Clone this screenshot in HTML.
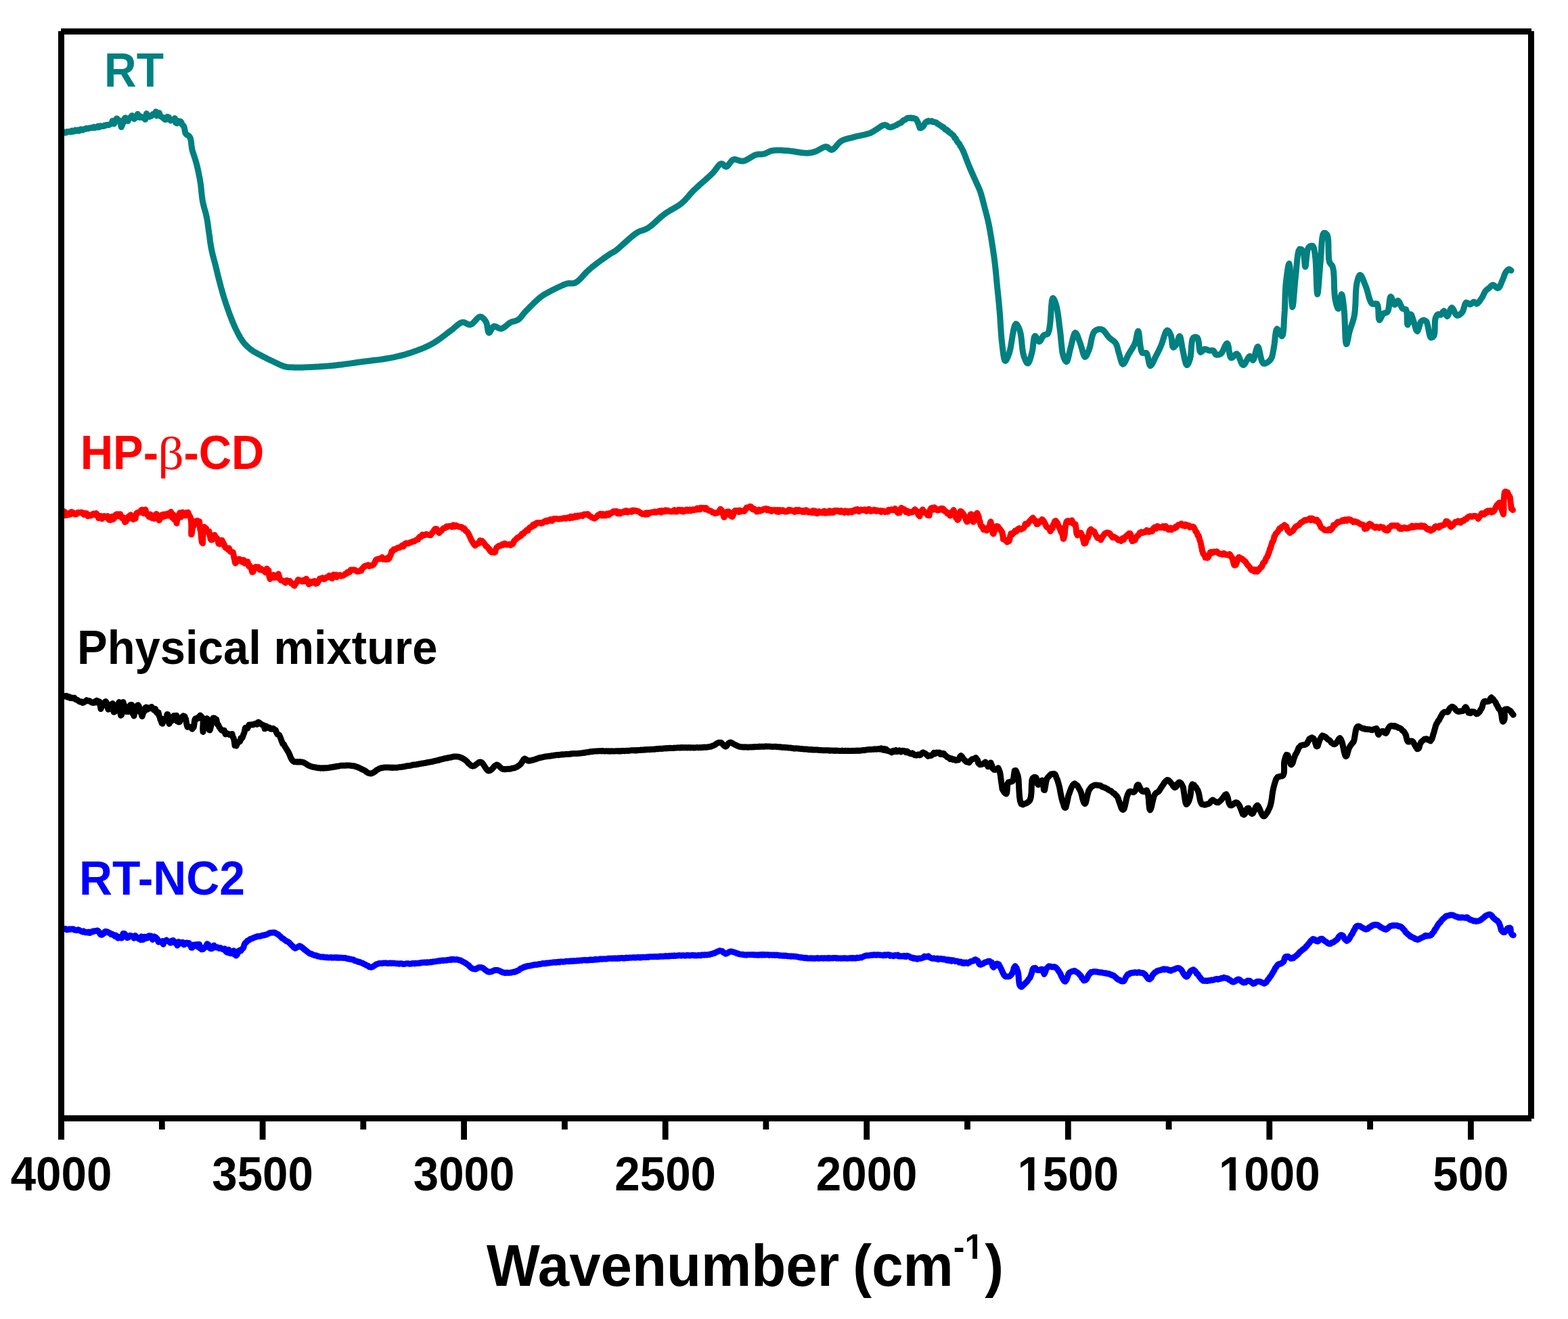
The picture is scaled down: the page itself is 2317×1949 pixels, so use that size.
<!DOCTYPE html>
<html><head><meta charset="utf-8"><style>
html,body{margin:0;padding:0;background:#fff;}
svg{display:block;}
text{font-family:"Liberation Sans",Arial,sans-serif;font-weight:bold;}
.tl{font-size:67.3px;fill:#000;}
.lb{font-size:67px;}
</style></head><body>
<svg width="2317" height="1949" viewBox="0 0 2317 1949">
<rect width="2317" height="1949" fill="#fff"/>
<polyline points="91.0,196.0 92.3,195.9 95.0,195.0 96.5,196.2 98.0,195.8 99.3,194.6 100.7,194.9 102.0,194.6 103.1,194.9 104.3,195.0 105.4,193.4 106.6,193.1 107.8,194.5 109.0,193.5 110.3,194.0 111.5,192.3 112.7,193.0 114.0,193.3 115.2,192.1 116.4,193.4 117.6,193.1 118.7,191.1 119.9,190.9 121.0,191.8 122.5,192.3 123.9,191.0 125.4,190.4 126.5,190.6 127.6,189.6 128.7,189.8 129.9,190.1 131.0,190.0 132.1,189.3 133.2,189.1 134.3,188.8 135.8,189.0 137.2,188.4 138.7,187.6 140.1,189.0 141.6,188.1 143.0,188.0 144.4,186.8 145.7,188.2 147.1,187.6 148.3,185.9 149.4,186.1 150.6,186.6 151.7,186.4 152.8,186.6 154.0,185.3 155.1,185.9 156.2,185.3 157.3,184.4 158.9,184.5 160.5,184.7 162.0,184.2 163.5,183.1 164.8,182.8 166.2,178.6 167.3,179.5 168.5,183.0 170.6,178.5 172.5,175.0 174.2,176.7 175.7,177.7 176.7,178.8 177.4,178.8 178.0,182.0 178.5,184.8 179.3,187.8 180.3,185.3 181.3,182.7 182.4,181.2 183.7,175.5 185.2,173.9 186.9,177.8 188.8,179.0 190.9,175.3 193.0,173.1 195.1,170.7 197.1,172.6 198.4,175.8 199.7,173.7 200.9,171.5 202.2,173.5 203.4,168.4 204.6,170.2 206.7,173.6 208.4,172.3 209.8,173.5 211.4,173.2 213.0,174.9 214.6,176.5 216.5,167.7 218.6,172.4 219.8,172.3 221.1,172.4 222.6,171.0 224.1,171.3 225.7,168.8 227.2,169.0 228.8,167.8 230.4,164.9 231.7,171.2 233.1,169.0 235.2,166.7 236.6,170.4 237.6,172.1 238.8,172.7 240.6,173.6 242.6,175.7 243.8,176.6 244.9,176.8 246.0,175.7 247.1,172.6 248.3,174.0 249.5,173.5 250.8,176.3 252.1,178.1 253.4,177.3 254.6,177.1 256.7,177.4 258.4,174.7 259.7,181.5 261.4,182.3 263.1,178.8 265.2,179.1 267.4,179.8 269.4,184.4 271.0,185.7 271.9,187.3 272.5,189.4 272.9,191.6 273.3,193.9 273.7,195.9 274.5,197.6 276.4,199.3 278.6,200.5 280.5,202.4 281.5,204.8 282.1,207.7 282.6,211.0 282.9,214.6 283.4,218.1 284.0,221.4 284.9,224.5 285.9,227.6 286.9,230.7 288.0,233.8 289.0,237.1 290.0,240.5 291.1,244.9 292.2,249.5 293.2,254.4 294.2,259.3 295.2,264.2 296.0,269.0 296.7,273.8 297.2,278.6 297.7,283.5 298.2,288.3 298.8,293.0 299.5,297.6 300.4,301.7 301.4,305.7 302.5,309.6 303.6,313.5 304.6,317.4 305.5,321.4 306.2,325.4 306.8,329.3 307.4,333.3 307.9,337.3 308.4,341.2 309.0,345.2 309.6,349.2 310.1,353.1 310.6,357.1 311.2,361.1 311.9,365.0 312.6,369.0 313.5,373.0 314.4,377.0 315.5,381.0 316.5,384.9 317.6,388.9 318.6,392.9 319.6,396.9 320.6,400.9 321.5,404.9 322.5,408.9 323.5,412.8 324.5,416.7 325.5,420.3 326.4,423.9 327.4,427.5 328.4,431.0 329.4,434.6 330.5,438.1 331.6,441.7 332.7,445.2 333.9,448.8 335.1,452.3 336.3,455.9 337.6,459.5 339.0,463.4 340.5,467.4 342.1,471.5 343.7,475.5 345.3,479.4 347.1,483.3 348.9,487.1 350.8,490.9 352.7,494.7 354.7,498.3 356.8,501.7 359.0,504.8 360.8,507.1 362.7,509.3 364.7,511.3 366.7,513.1 368.8,514.9 371.0,516.7 373.5,518.5 376.2,520.1 379.0,521.7 381.9,523.2 384.8,524.7 387.6,526.2 390.4,527.7 393.1,529.1 395.9,530.5 398.7,531.8 401.5,533.2 404.3,534.5 407.1,535.8 409.9,537.2 412.7,538.5 415.5,539.8 418.3,540.9 421.0,541.7 423.4,542.2 425.6,542.5 427.9,542.7 430.2,542.8 432.6,542.8 435.2,542.9 438.8,543.0 442.7,542.9 446.7,542.9 450.8,542.7 455.0,542.6 459.0,542.4 463.0,542.2 467.1,542.0 471.2,541.8 475.2,541.5 479.1,541.3 482.9,541.0 485.8,540.8 488.6,540.5 491.2,540.3 493.9,540.0 496.8,539.7 500.0,539.3 505.2,538.7 510.9,537.9 517.0,537.1 523.3,536.2 529.6,535.3 535.7,534.5 541.7,533.7 547.7,533.0 553.7,532.3 559.7,531.6 565.6,530.8 571.4,529.8 576.7,528.8 581.9,527.8 587.0,526.7 592.1,525.5 597.2,524.2 602.4,522.6 608.3,520.7 614.4,518.6 620.5,516.3 626.6,513.8 632.5,511.2 638.1,508.3 643.3,505.2 648.3,501.8 653.2,498.3 657.9,494.7 662.4,491.2 666.7,488.1 669.7,485.7 672.6,483.2 675.4,480.8 678.0,478.7 680.7,477.1 683.3,476.2 685.3,476.3 687.3,477.0 689.3,478.0 691.3,479.1 693.2,479.8 695.2,479.8 697.6,478.6 700.1,476.3 702.6,473.5 705.0,470.8 707.3,468.7 709.5,467.9 711.4,468.3 713.2,469.5 714.9,471.1 716.5,473.0 717.9,475.0 719.0,477.6 719.8,481.1 720.4,484.7 721.0,488.1 721.6,490.6 722.6,491.7 723.8,490.9 725.1,488.7 726.5,486.0 728.1,483.5 729.8,482.1 731.7,482.2 733.8,483.1 736.0,484.4 738.3,485.4 740.5,485.7 742.8,484.9 745.2,483.5 747.6,481.6 750.1,479.5 752.5,477.6 754.8,476.2 757.0,475.3 759.2,474.8 761.4,474.3 763.5,473.6 765.5,472.6 767.4,471.1 769.1,469.4 770.7,467.4 772.4,465.2 774.2,463.0 776.2,460.7 779.6,457.2 783.5,453.2 787.6,449.1 791.9,445.0 796.0,441.3 800.0,438.1 802.8,436.1 805.6,434.4 808.3,432.9 811.0,431.5 813.8,430.1 816.7,428.6 820.2,426.8 823.8,425.0 827.6,423.2 831.3,421.5 834.8,420.0 838.1,419.0 840.6,418.6 843.0,418.7 845.3,418.8 847.6,418.6 850.0,417.9 853.3,415.8 856.7,412.8 860.2,409.1 863.8,405.1 867.5,401.2 871.4,397.6 876.0,393.8 881.1,389.9 886.3,386.0 891.3,382.3 896.0,379.0 900.0,376.2 902.2,374.8 904.1,373.7 905.9,372.8 907.8,371.7 910.0,370.2 914.3,366.7 919.4,362.2 925.0,357.2 930.6,352.1 936.1,347.5 941.0,344.0 943.9,342.4 946.7,341.3 949.4,340.4 952.1,339.5 954.8,338.4 957.6,336.9 961.4,334.2 965.3,331.0 969.2,327.4 973.2,323.6 977.3,320.0 981.4,316.7 985.7,313.8 990.2,311.0 994.8,308.4 999.4,305.7 1003.7,303.0 1007.6,300.0 1010.7,297.2 1013.4,294.3 1016.0,291.4 1018.6,288.4 1021.3,285.3 1024.3,282.1 1028.7,277.9 1033.6,273.4 1038.8,268.9 1043.9,264.3 1048.7,260.0 1052.9,256.0 1055.5,253.1 1057.8,250.0 1060.0,247.0 1062.1,244.4 1064.1,242.6 1066.0,241.7 1067.8,242.3 1069.6,244.0 1071.3,245.7 1073.1,246.4 1074.8,245.6 1076.4,243.8 1078.1,241.4 1079.9,239.0 1081.8,236.9 1083.8,235.7 1085.9,235.5 1088.2,235.9 1090.6,236.7 1093.1,237.5 1095.6,238.1 1098.1,238.1 1101.2,237.2 1104.4,235.6 1107.7,233.6 1111.0,231.6 1114.1,229.8 1117.1,228.6 1119.6,228.1 1122.0,227.9 1124.4,227.9 1126.7,227.8 1129.0,227.4 1131.0,226.8 1132.9,225.9 1134.8,225.0 1136.7,224.0 1138.8,223.2 1141.0,222.6 1144.1,222.2 1147.5,222.0 1151.0,222.0 1154.7,222.1 1158.5,222.4 1162.4,222.6 1167.4,223.1 1172.8,223.8 1178.4,224.7 1183.9,225.5 1188.9,226.1 1193.3,226.2 1195.6,226.0 1197.6,225.8 1199.5,225.4 1201.4,225.0 1203.2,224.4 1205.2,223.8 1207.8,222.7 1210.4,221.2 1213.2,219.6 1215.9,218.1 1218.4,217.1 1220.7,216.7 1222.9,217.5 1224.9,219.2 1226.9,220.8 1229.0,221.4 1231.2,220.5 1233.4,218.5 1235.7,215.9 1238.1,213.0 1240.6,210.3 1243.3,208.3 1246.2,206.9 1249.2,205.8 1252.4,204.9 1255.7,204.1 1259.0,203.3 1262.4,202.4 1266.2,201.4 1270.2,200.6 1274.3,199.7 1278.3,198.8 1282.3,197.7 1286.2,196.4 1290.0,194.5 1293.9,192.0 1297.8,189.4 1301.4,187.0 1304.7,185.2 1307.6,184.5 1309.6,185.0 1311.3,186.2 1312.9,187.5 1314.8,188.1 1317.0,187.9 1319.4,187.1 1321.9,186.0 1324.6,184.7 1327.1,183.3 1329.5,182.1 1331.6,181.3 1333.6,179.1 1335.5,177.5 1337.4,177.0 1339.4,175.4 1341.4,174.3 1342.6,174.3 1343.8,174.6 1345.1,174.0 1346.3,174.1 1347.6,174.9 1348.9,174.6 1350.1,174.6 1351.2,175.2 1353.3,175.4 1354.8,177.8 1356.1,180.4 1357.1,183.0 1358.1,185.6 1359.2,189.0 1360.5,189.3 1361.9,188.4 1363.4,187.5 1365.0,185.7 1366.6,182.2 1368.3,180.3 1370.0,179.2 1371.1,179.8 1372.3,178.6 1373.5,179.4 1374.6,179.3 1375.9,179.2 1377.1,178.8 1378.3,180.3 1379.5,180.3 1381.4,180.5 1383.4,181.1 1385.4,183.0 1387.4,183.9 1389.4,185.6 1391.4,186.6 1392.6,187.9 1393.8,187.8 1395.0,189.0 1396.3,190.9 1397.5,191.7 1398.8,191.6 1400.0,193.4 1401.2,193.5 1402.4,195.4 1403.5,196.0 1405.7,197.5 1407.5,199.1 1409.2,200.6 1410.8,204.0 1412.3,204.7 1413.8,208.0 1415.2,210.2 1416.5,211.5 1417.7,212.7 1418.9,215.7 1420.1,217.1 1421.2,219.1 1422.4,221.4 1424.0,224.9 1425.6,228.7 1427.1,232.8 1428.7,237.0 1430.3,241.2 1431.9,245.2 1433.5,248.9 1435.1,252.6 1436.7,256.2 1438.3,259.8 1439.9,263.3 1441.4,266.7 1442.7,269.6 1443.9,272.3 1445.2,275.0 1446.4,277.7 1447.5,280.4 1448.6,283.3 1449.7,286.7 1450.7,290.2 1451.7,293.8 1452.6,297.4 1453.6,301.1 1454.5,304.8 1455.5,308.7 1456.6,312.6 1457.6,316.5 1458.6,320.5 1459.6,324.5 1460.5,328.6 1461.4,332.8 1462.2,337.1 1463.0,341.4 1463.7,345.8 1464.5,350.2 1465.2,354.8 1466.0,360.1 1466.9,365.6 1467.7,371.1 1468.5,376.8 1469.3,382.4 1470.0,388.1 1470.7,394.0 1471.3,399.9 1471.9,405.9 1472.5,411.9 1473.0,417.8 1473.6,423.8 1474.2,429.7 1474.8,435.5 1475.4,441.3 1476.0,447.2 1476.5,453.3 1477.1,459.5 1477.7,467.2 1478.2,475.4 1478.7,483.8 1479.3,492.0 1479.9,499.9 1480.7,507.1 1481.3,512.5 1482.0,518.3 1482.7,523.9 1483.5,528.6 1484.4,531.9 1485.5,533.3 1486.4,532.9 1487.3,531.5 1488.3,529.4 1489.4,526.9 1490.4,524.2 1491.4,521.4 1493.1,514.9 1494.6,506.1 1496.1,496.6 1497.6,487.8 1499.3,481.3 1501.0,478.6 1502.2,479.0 1503.4,480.5 1504.6,482.7 1505.8,485.4 1506.9,488.1 1508.2,493.2 1509.2,499.7 1509.9,507.0 1510.7,514.3 1511.6,521.0 1512.9,526.2 1513.8,528.7 1514.8,531.2 1515.8,533.4 1516.8,535.3 1517.8,536.5 1518.8,536.9 1519.9,536.1 1520.9,534.1 1522.0,531.3 1523.0,528.0 1523.9,524.6 1524.8,521.4 1525.7,517.1 1526.4,511.8 1527.0,506.4 1527.6,501.5 1528.4,497.9 1529.5,496.4 1530.5,497.1 1531.7,499.2 1532.9,501.7 1534.2,503.9 1535.5,504.8 1536.9,504.0 1538.2,502.0 1539.6,499.4 1541.1,497.0 1542.6,495.2 1544.6,494.4 1546.7,494.1 1548.6,492.9 1550.6,486.9 1551.9,476.7 1552.8,464.6 1553.5,453.0 1554.4,444.1 1555.7,440.5 1556.6,441.0 1557.6,442.5 1558.6,444.7 1559.6,447.3 1560.5,450.0 1561.7,454.8 1562.8,460.8 1563.8,467.4 1564.7,474.4 1565.5,481.4 1566.4,488.1 1567.2,494.8 1567.8,501.9 1568.5,508.9 1569.2,515.6 1570.0,521.5 1571.2,526.2 1572.3,529.2 1573.5,531.9 1574.8,533.8 1576.0,534.5 1577.1,533.4 1578.0,530.7 1579.0,526.9 1579.9,522.5 1580.9,518.2 1581.9,514.3 1583.0,510.1 1584.1,505.2 1585.3,500.3 1586.5,496.0 1587.7,492.9 1589.0,491.7 1590.1,492.4 1591.4,494.4 1592.6,497.3 1593.8,500.6 1595.0,504.0 1596.2,507.1 1597.4,510.8 1598.6,515.1 1599.8,519.5 1600.9,523.4 1602.1,526.3 1603.3,527.4 1604.3,527.0 1605.3,525.7 1606.3,523.8 1607.3,521.5 1608.3,519.1 1609.3,516.7 1610.6,512.6 1611.7,507.5 1612.8,502.0 1614.0,496.8 1615.6,492.3 1617.6,489.3 1619.5,487.9 1621.7,487.0 1623.9,486.5 1626.2,486.5 1628.3,486.9 1630.2,488.0 1632.0,489.8 1633.8,492.0 1635.5,494.4 1637.2,496.8 1639.0,498.8 1640.7,500.3 1642.4,501.6 1644.1,502.8 1645.8,504.1 1647.3,505.5 1648.6,507.1 1649.7,509.2 1650.6,511.4 1651.3,513.8 1651.9,516.4 1652.5,518.9 1653.3,521.4 1654.2,524.5 1655.1,528.1 1656.1,531.7 1657.1,534.9 1658.1,537.2 1659.3,538.1 1660.5,537.5 1661.9,535.6 1663.3,532.9 1664.7,529.8 1666.2,526.6 1667.6,523.8 1669.2,521.1 1670.9,518.4 1672.6,515.6 1674.3,512.8 1675.8,510.0 1677.1,507.1 1678.2,503.8 1679.0,499.9 1679.8,496.0 1680.5,492.6 1681.2,490.2 1681.9,489.3 1682.8,491.5 1683.5,496.9 1684.2,504.2 1685.1,511.7 1686.3,517.9 1687.9,521.4 1690.8,521.5 1693.8,521.4 1695.1,523.6 1696.1,527.3 1697.0,531.7 1697.8,535.9 1698.7,539.1 1699.8,540.5 1701.0,539.9 1702.4,538.0 1703.8,535.2 1705.3,532.1 1706.7,528.9 1708.1,526.2 1709.3,523.9 1710.5,521.6 1711.7,519.3 1712.8,517.0 1714.0,514.5 1715.2,511.9 1716.8,507.8 1718.4,502.8 1720.0,497.6 1721.6,492.9 1723.2,489.5 1724.8,488.1 1726.2,488.7 1727.6,490.3 1728.9,492.6 1730.0,495.0 1730.8,497.9 1731.4,501.6 1731.8,505.6 1732.2,509.3 1732.7,512.0 1733.6,513.3 1735.1,512.7 1736.7,510.8 1738.3,508.6 1739.2,506.7 1740.1,504.2 1740.9,501.5 1741.6,499.1 1742.4,497.3 1743.1,496.7 1744.0,497.8 1744.8,500.7 1745.5,504.8 1746.3,509.4 1747.1,514.1 1747.9,518.1 1748.8,522.2 1749.7,526.8 1750.7,531.4 1751.7,535.4 1752.7,538.3 1753.8,539.5 1754.7,539.0 1755.8,537.4 1756.8,535.2 1757.7,532.6 1758.6,530.0 1759.5,525.4 1760.0,519.4 1760.4,513.0 1761.0,506.8 1761.8,501.9 1763.3,499.0 1765.2,498.1 1767.4,498.1 1769.3,499.0 1770.5,501.4 1771.3,505.5 1771.8,510.3 1772.3,515.0 1772.9,518.7 1774.0,520.5 1775.8,519.6 1777.8,517.2 1780.0,515.7 1782.3,516.1 1784.7,517.2 1787.1,518.1 1789.2,518.1 1791.3,517.8 1793.1,518.1 1794.4,519.9 1795.4,522.3 1796.7,524.0 1798.8,524.4 1801.4,524.0 1803.8,522.9 1805.6,520.9 1807.3,517.8 1808.9,514.1 1810.5,510.7 1812.0,508.3 1813.3,507.4 1814.5,509.0 1815.4,512.9 1816.1,517.8 1816.9,522.8 1817.9,526.8 1819.3,528.8 1820.8,528.4 1822.4,526.9 1824.2,525.0 1826.0,523.4 1827.6,522.9 1829.3,524.4 1830.9,527.5 1832.4,531.4 1833.9,535.3 1835.5,538.3 1837.1,539.5 1838.7,538.6 1840.4,536.2 1842.1,533.0 1843.7,529.9 1845.3,527.4 1846.7,526.4 1848.4,528.0 1849.9,530.9 1851.4,532.4 1852.6,530.8 1853.9,526.9 1855.0,522.1 1856.2,517.3 1857.4,513.6 1858.6,512.1 1859.9,513.8 1861.0,518.2 1862.2,524.0 1863.5,529.9 1865.0,534.7 1866.9,537.1 1868.5,537.3 1870.4,536.8 1872.4,535.8 1874.3,534.4 1876.1,532.8 1877.6,531.2 1878.9,528.9 1879.9,526.3 1880.6,523.2 1881.2,520.0 1881.8,516.6 1882.4,513.3 1883.2,508.5 1883.8,502.7 1884.4,496.8 1885.1,491.5 1885.9,487.7 1887.1,486.0 1888.2,486.7 1889.4,488.7 1890.7,491.4 1892.1,494.0 1893.3,496.0 1894.3,496.7 1895.5,495.0 1896.2,490.9 1896.8,485.2 1897.2,478.7 1897.5,471.9 1897.9,465.7 1898.4,458.2 1898.7,450.1 1898.9,441.8 1899.2,433.4 1899.6,425.4 1900.2,418.1 1900.9,412.2 1901.7,405.9 1902.5,399.7 1903.4,394.5 1904.2,390.8 1905.0,389.5 1906.0,394.3 1906.8,406.2 1907.5,421.7 1908.2,437.1 1909.0,449.0 1909.8,453.8 1910.5,451.5 1911.3,445.3 1912.0,436.7 1912.8,426.8 1913.6,417.0 1914.5,408.6 1915.3,400.9 1916.0,392.4 1916.8,383.9 1917.7,376.4 1918.9,370.8 1920.5,368.1 1922.9,368.4 1925.2,370.5 1926.3,373.5 1927.0,378.3 1927.5,383.8 1927.9,388.9 1928.3,392.8 1928.8,394.3 1929.4,392.5 1929.9,387.8 1930.5,381.6 1931.2,375.0 1932.2,369.3 1933.6,365.7 1935.5,364.0 1937.7,363.2 1939.5,363.3 1940.4,364.1 1941.1,365.6 1941.7,367.5 1942.2,369.9 1942.6,372.5 1943.1,375.2 1944.0,383.8 1944.7,396.1 1945.2,409.6 1945.6,422.0 1946.1,431.2 1946.7,434.8 1947.4,432.2 1948.1,425.4 1948.9,415.7 1949.7,404.8 1950.6,394.0 1951.4,384.8 1952.0,377.0 1952.5,368.4 1953.0,360.0 1953.7,352.5 1954.7,347.0 1956.2,344.3 1958.6,344.5 1961.0,346.7 1962.3,351.0 1962.9,357.8 1963.0,365.9 1963.2,374.3 1963.5,381.8 1964.5,387.1 1965.6,389.2 1966.9,390.7 1968.2,392.1 1969.3,394.3 1970.5,400.1 1971.1,408.0 1971.4,417.2 1971.6,426.5 1972.1,435.1 1972.9,441.9 1973.6,445.1 1974.3,448.4 1975.2,451.4 1976.0,453.9 1976.8,455.6 1977.6,456.2 1978.5,454.6 1979.3,450.6 1980.1,445.5 1980.9,440.3 1981.7,436.4 1982.4,434.8 1983.1,435.8 1983.7,438.4 1984.3,442.2 1984.9,446.8 1985.5,451.6 1986.0,456.2 1986.7,464.8 1987.2,475.8 1987.6,487.4 1988.0,498.0 1988.6,505.6 1989.5,508.6 1990.2,507.7 1990.9,505.2 1991.7,501.6 1992.5,497.5 1993.4,493.2 1994.3,489.5 1995.4,485.8 1996.7,482.1 1998.0,478.3 1999.2,474.4 2000.4,470.2 2001.4,465.7 2002.3,458.4 2002.9,449.9 2003.2,440.9 2003.5,432.2 2004.1,424.4 2005.0,418.1 2005.7,415.3 2006.4,412.6 2007.2,410.1 2008.0,408.1 2008.9,406.7 2009.8,406.2 2011.0,407.0 2012.4,409.1 2013.8,412.2 2015.3,415.8 2016.7,419.5 2018.1,422.9 2019.7,427.3 2021.1,432.4 2022.5,437.7 2024.0,442.6 2025.7,446.6 2027.6,449.0 2030.0,449.3 2032.6,448.6 2034.8,449.0 2036.0,451.7 2036.7,456.3 2036.9,461.8 2037.1,467.1 2037.5,471.2 2038.3,472.9 2039.3,472.2 2040.4,470.2 2041.6,467.6 2042.9,465.1 2044.3,463.3 2046.3,462.5 2048.4,462.1 2050.2,461.0 2051.5,458.1 2052.3,453.6 2052.9,448.4 2053.5,443.5 2054.1,439.8 2055.0,438.3 2055.9,439.1 2056.8,441.2 2057.9,444.1 2058.9,447.0 2060.0,449.2 2061.0,450.2 2062.5,448.7 2064.1,445.8 2065.7,444.3 2066.8,445.1 2068.0,447.0 2069.2,449.6 2070.4,452.3 2071.6,454.7 2072.9,456.2 2075.4,456.7 2077.6,457.4 2078.6,460.1 2079.1,464.6 2079.2,469.8 2079.3,474.7 2079.5,478.5 2080.0,480.0 2080.7,478.9 2081.4,476.0 2082.3,472.3 2083.1,468.6 2084.0,465.7 2084.8,464.5 2085.7,465.3 2086.5,467.4 2087.4,470.2 2088.3,472.9 2089.2,475.7 2090.2,479.2 2091.2,482.9 2092.2,486.2 2093.3,488.6 2094.3,489.5 2095.2,488.6 2096.1,486.3 2097.0,483.1 2097.9,479.8 2098.9,476.8 2100.0,474.9 2102.1,473.4 2104.3,473.0 2107.7,474.9 2108.9,477.8 2110.0,482.4 2111.0,487.8 2112.1,493.0 2113.2,497.1 2114.5,499.0 2116.7,498.4 2118.8,496.1 2119.7,493.1 2120.1,488.7 2120.2,483.6 2120.3,478.3 2120.5,473.6 2121.2,470.1 2122.3,467.5 2123.6,465.4 2125.1,464.3 2128.9,465.3 2130.6,463.5 2132.1,460.8 2133.7,459.5 2134.9,460.8 2136.1,463.4 2137.3,466.0 2138.5,467.2 2139.6,466.3 2140.7,464.0 2141.8,461.0 2142.9,458.0 2144.1,455.7 2145.3,454.7 2146.5,455.5 2147.7,457.5 2149.0,460.2 2150.2,463.0 2151.6,465.2 2153.0,466.3 2154.9,466.1 2156.9,465.0 2158.9,463.3 2160.7,461.4 2161.9,459.3 2162.8,456.4 2163.7,453.3 2164.5,450.4 2165.4,448.2 2166.5,447.0 2168.3,447.5 2170.3,449.1 2172.3,449.9 2174.3,448.8 2176.3,447.0 2178.1,446.0 2180.0,447.5 2181.9,448.9 2183.3,448.2 2184.9,446.7 2186.6,444.6 2188.2,442.3 2189.6,440.2 2190.7,438.5 2191.6,436.6 2192.6,434.6 2193.5,432.7 2194.4,431.0 2195.4,429.6 2196.9,428.1 2198.5,427.0 2200.2,425.8 2202.1,423.9 2204.0,422.0 2206.0,421.0 2207.9,421.8 2209.9,423.6 2211.9,425.3 2213.7,425.8 2215.0,424.9 2216.3,423.1 2217.4,420.8 2218.5,418.1 2219.5,415.5 2220.5,413.2 2221.4,411.2 2222.1,409.1 2222.8,407.0 2223.6,405.0 2224.4,403.2 2225.3,401.7 2226.9,399.9 2228.5,398.4 2230.1,397.8 2233.0,399.8" fill="none" stroke="#008080" stroke-width="9" stroke-linejoin="round" stroke-linecap="round"/>
<polyline points="91.0,761.3 91.8,761.4 93.8,755.5 95.2,756.0 96.6,761.7 98.0,761.2 99.5,761.0 100.7,758.4 102.0,760.6 103.1,760.4 104.2,759.9 105.4,756.4 106.5,757.9 107.6,757.1 108.7,759.0 110.9,760.1 113.0,759.6 114.9,757.2 116.8,757.6 118.6,757.6 120.3,757.1 122.0,757.6 124.0,760.5 125.9,758.6 128.0,758.6 129.9,762.7 131.9,760.8 134.1,761.9 136.1,760.3 138.0,759.1 140.1,760.7 142.1,758.5 144.0,760.9 145.7,765.6 147.4,765.0 149.0,762.4 150.7,766.5 152.3,763.9 154.0,762.4 155.2,764.2 156.4,763.7 157.7,764.8 159.0,762.6 160.9,767.9 163.0,768.6 165.1,763.3 167.0,767.5 168.8,765.6 170.3,761.2 172.0,760.1 173.1,759.7 174.2,762.7 175.4,760.0 176.7,762.6 177.8,759.7 179.0,764.1 180.5,765.6 181.9,764.4 183.3,767.2 184.6,771.4 186.0,770.6 187.5,768.1 188.9,764.3 190.4,763.0 192.0,764.4 193.2,760.8 194.4,766.3 195.6,762.2 196.9,767.4 199.0,763.3 200.1,766.3 200.8,761.8 202.0,758.2 203.7,757.2 205.9,757.2 207.1,756.4 208.4,754.1 209.6,753.2 210.8,755.3 211.9,758.4 213.0,756.2 214.9,753.1 216.8,759.8 218.6,760.8 220.3,763.8 222.0,759.9 224.2,765.4 226.2,761.8 228.0,766.4 229.6,761.6 231.0,759.4 231.9,765.4 232.8,762.5 234.0,767.0 235.3,768.9 236.9,763.0 238.6,760.9 240.4,764.1 242.0,759.9 244.1,762.7 246.2,759.3 248.0,762.2 249.6,758.3 251.0,759.6 252.6,756.3 254.3,764.8 256.0,760.4 257.3,767.6 258.7,764.9 259.9,768.5 261.0,773.3 261.8,767.3 262.2,764.8 262.8,765.5 264.0,761.2 265.6,757.8 267.6,764.0 268.7,757.9 269.8,756.9 270.9,759.1 272.0,761.0 274.0,761.9 275.3,757.4 276.6,759.1 277.8,757.1 279.0,760.3 281.0,763.9 282.2,767.2 282.7,773.9 282.8,779.3 282.7,786.2 282.7,789.7 283.0,789.8 283.3,787.2 283.6,788.0 284.0,782.5 284.4,777.6 285.1,776.9 286.0,777.7 287.5,770.3 289.4,771.9 291.3,769.3 293.0,770.1 294.6,770.5 295.9,782.8 296.8,785.9 297.6,796.3 298.3,801.0 299.0,800.5 299.5,802.8 299.7,795.9 300.0,790.0 300.3,785.0 300.9,781.4 302.0,778.6 303.2,781.7 304.5,780.7 305.7,784.2 307.0,784.6 308.1,786.8 308.9,785.1 309.6,789.8 310.3,791.9 311.1,796.4 312.0,797.7 313.6,797.6 315.3,794.5 317.0,790.5 318.2,792.6 319.5,795.7 320.7,795.6 321.9,798.9 323.0,803.5 324.0,802.7 325.5,803.9 327.0,798.4 327.9,798.2 329.0,800.1 330.1,802.5 331.3,804.6 332.6,808.6 334.0,809.8 336.2,810.0 337.4,812.3 338.6,810.1 339.8,814.6 341.0,815.4 343.0,815.4 344.3,816.2 345.2,820.2 345.9,824.7 346.5,825.3 347.1,830.3 348.0,832.2 349.1,829.0 350.4,826.2 352.0,828.8 353.6,826.0 355.6,827.2 357.7,830.3 358.8,828.9 359.9,827.4 362.1,832.7 364.0,830.2 365.9,830.1 367.8,836.8 369.5,836.2 371.2,840.1 372.7,845.3 374.0,845.0 375.4,839.6 376.5,839.4 378.0,837.5 379.7,838.3 381.6,837.9 383.8,842.0 385.9,840.5 388.0,842.7 390.1,843.2 392.3,845.9 394.4,840.2 396.0,844.5 396.9,842.7 397.3,847.6 397.6,849.4 398.0,852.3 399.0,855.5 400.7,853.3 401.9,851.2 403.0,850.6 404.2,849.6 405.4,853.5 406.7,851.7 407.9,853.0 410.0,851.2 411.5,848.0 412.8,853.3 413.9,855.9 415.2,857.5 416.5,857.9 418.0,858.1 419.8,859.2 421.9,861.2 424.0,857.8 426.2,859.0 428.2,858.6 430.0,861.7 431.9,862.0 433.6,864.5 435.1,865.5 436.5,862.8 437.8,861.0 438.9,860.0 440.5,856.6 442.1,856.9 444.1,857.9 446.3,859.2 448.4,857.3 450.5,858.9 452.5,855.3 454.5,858.1 456.5,863.3 458.5,859.4 460.5,861.5 462.5,859.2 464.5,858.6 466.5,862.4 468.5,861.9 470.5,858.9 472.5,854.9 474.5,855.1 476.5,853.8 478.5,855.7 480.5,855.1 482.5,853.1 484.5,853.2 486.5,850.4 488.5,852.6 490.5,854.7 491.7,853.3 492.9,849.1 494.1,851.3 495.2,852.2 496.4,849.2 497.6,852.8 498.8,850.0 500.0,850.6 502.0,849.6 504.0,851.3 506.0,850.7 508.1,849.9 510.0,848.1 511.7,848.1 513.3,845.6 514.9,845.9 516.6,845.3 518.2,842.0 520.0,842.2 521.9,842.0 524.0,842.0 526.1,843.4 528.2,844.6 530.2,844.1 532.0,843.1 533.8,843.4 535.4,839.6 536.9,838.8 538.4,836.7 540.0,835.9 541.9,836.1 543.9,834.8 545.9,836.6 548.0,835.8 549.9,835.5 551.8,834.5 553.8,831.2 555.7,827.0 557.8,826.3 560.0,825.7 561.1,826.0 562.3,825.1 563.5,825.7 564.8,823.4 566.0,826.4 567.3,825.9 568.6,825.7 569.8,826.8 571.0,826.8 572.1,824.5 574.0,826.0 575.4,824.6 576.3,821.1 577.1,820.6 577.9,818.0 578.8,814.8 580.0,815.0 581.7,811.7 583.8,812.0 585.9,810.6 588.0,809.2 590.0,809.3 592.1,808.0 594.1,806.2 596.0,807.5 598.0,803.8 600.0,802.6 601.9,803.0 603.9,803.0 606.0,801.6 607.9,801.2 609.9,799.9 612.0,800.0 614.0,798.4 616.0,797.4 617.7,797.0 619.3,794.1 620.9,792.7 622.5,793.2 624.2,790.1 626.0,790.9 627.9,790.5 630.1,789.3 632.3,790.2 634.4,790.6 636.4,790.7 638.0,788.0 639.5,786.5 640.7,784.9 641.7,783.0 643.0,781.5 644.9,781.5 646.9,785.2 649.0,787.5 650.7,785.1 652.4,784.1 654.1,781.8 656.0,780.2 658.0,780.2 659.9,777.8 661.8,778.4 663.9,777.5 666.0,777.4 668.0,778.4 670.0,775.8 672.1,778.0 674.1,776.4 676.1,777.6 678.0,778.3 680.0,778.6 682.1,778.8 684.2,781.5 686.2,780.9 688.2,784.4 690.2,785.7 692.0,788.2 693.9,792.1 695.5,795.6 697.1,799.0 698.6,801.6 700.2,804.0 702.0,806.0 703.7,804.8 705.6,803.1 707.5,803.0 709.3,798.6 711.0,800.1 712.5,799.4 713.8,800.9 715.1,802.7 716.4,804.0 718.0,807.0 719.9,807.9 722.0,810.7 723.1,811.3 724.2,814.1 726.4,815.9 728.4,815.6 730.0,816.5 731.5,816.1 732.5,811.9 734.0,808.9 735.6,807.9 737.5,806.4 739.6,806.5 741.8,804.5 742.9,804.1 744.0,805.0 746.0,803.1 748.1,804.9 750.2,804.7 752.4,804.3 754.3,805.5 756.0,803.6 757.4,804.1 758.5,802.7 759.5,799.7 760.6,798.4 762.0,797.4 763.9,795.1 765.1,794.3 766.2,793.9 767.4,793.2 768.7,791.9 769.9,791.7 771.2,788.8 772.4,789.0 773.7,788.3 774.8,786.5 776.0,785.8 778.1,783.4 780.0,784.0 782.0,780.3 783.9,778.9 785.9,778.6 788.0,775.2 789.9,776.5 791.8,773.3 793.8,772.4 795.8,772.8 797.9,772.3 800.0,773.4 801.3,772.9 802.5,772.1 803.9,770.8 805.2,770.7 806.6,769.5 808.0,770.9 809.4,769.2 810.7,768.5 812.1,769.3 813.4,767.5 814.7,767.8 816.0,769.4 818.1,766.6 820.1,766.6 822.1,766.6 824.0,766.7 826.0,767.1 828.0,766.4 830.1,766.4 832.1,765.8 834.1,765.4 836.2,766.2 838.3,765.0 840.5,764.7 841.8,765.7 843.1,763.3 844.4,763.3 845.8,765.2 847.1,763.6 848.5,764.4 849.9,762.2 851.3,763.1 852.6,763.8 853.9,762.0 855.2,763.0 856.5,762.3 858.6,761.2 860.7,762.5 862.8,760.1 864.8,760.0 866.7,760.2 868.5,759.5 870.7,762.1 872.6,763.0 874.5,764.6 876.5,765.2 878.4,766.1 880.3,764.9 882.3,763.1 883.4,761.4 884.5,760.7 885.7,760.9 886.9,759.2 888.3,759.4 889.6,762.0 891.1,759.4 892.5,761.8 894.0,761.0 895.5,761.8 896.8,759.2 898.2,759.8 899.4,761.1 900.6,758.5 901.7,758.3 902.9,758.6 904.9,756.8 906.7,755.5 908.6,756.5 910.7,755.2 912.6,758.8 913.8,758.1 915.0,756.6 916.2,759.1 917.3,757.1 918.6,757.6 919.9,757.5 921.4,755.8 922.8,756.6 924.3,754.7 925.8,754.8 927.4,757.0 928.9,756.3 930.5,755.2 932.0,755.6 933.3,756.4 934.6,754.0 935.8,755.3 937.2,754.3 938.6,754.5 939.9,754.7 941.3,755.4 942.7,755.2 944.1,756.1 945.5,757.0 946.9,758.1 948.3,759.2 949.7,759.6 951.0,759.3 952.3,758.8 953.6,760.3 954.8,757.8 956.0,757.7 957.2,760.0 958.5,759.2 959.6,757.6 960.7,757.9 962.9,757.0 965.1,756.8 966.2,756.5 967.4,756.1 968.7,757.2 970.0,757.1 971.5,756.1 972.9,755.7 974.4,754.9 975.6,756.5 976.8,757.2 978.0,754.5 979.2,756.1 980.5,756.1 981.8,755.9 983.1,753.8 984.4,755.5 985.7,754.3 987.1,754.3 988.4,755.6 989.7,755.8 991.0,755.7 992.4,756.1 993.7,755.9 995.0,755.1 996.2,753.6 997.5,756.0 998.7,756.1 1000.0,756.1 1001.1,755.3 1002.3,753.3 1003.4,753.8 1004.5,753.4 1005.6,755.1 1006.8,754.7 1007.9,753.4 1009.0,756.0 1010.2,756.0 1011.3,755.6 1012.4,754.1 1013.5,753.4 1015.0,753.0 1016.4,755.0 1017.9,754.4 1019.3,752.9 1020.7,754.9 1022.1,753.6 1023.4,753.0 1024.7,752.8 1026.0,753.7 1027.5,752.6 1028.9,753.1 1030.3,751.0 1031.7,752.7 1033.0,751.0 1034.3,752.8 1035.6,750.2 1036.9,750.4 1038.1,751.0 1039.4,750.4 1040.7,751.0 1042.0,752.4 1043.4,750.5 1044.8,752.9 1046.2,753.4 1047.6,754.6 1049.0,754.4 1050.4,755.3 1051.8,755.9 1053.1,757.2 1054.4,757.1 1055.7,757.6 1056.8,758.7 1058.0,758.0 1059.9,758.1 1061.6,756.9 1063.3,754.1 1064.7,752.3 1066.0,753.4 1067.0,755.5 1067.8,755.7 1068.4,759.9 1069.1,762.4 1070.0,764.3 1071.4,762.6 1072.9,758.9 1074.5,756.1 1076.0,757.1 1077.2,756.2 1078.5,757.2 1079.8,762.5 1080.9,762.2 1082.0,763.4 1083.0,762.1 1083.7,759.1 1084.6,757.7 1086.0,754.5 1087.6,754.4 1089.5,754.5 1091.6,756.5 1092.8,754.0 1093.9,756.2 1096.0,754.9 1098.0,754.8 1099.8,755.4 1101.5,753.0 1103.2,750.1 1104.8,750.1 1106.4,749.9 1108.0,748.5 1109.6,748.5 1111.1,750.8 1112.6,752.9 1114.2,751.8 1116.0,753.3 1118.0,755.9 1120.2,755.7 1121.4,753.1 1122.5,754.6 1123.8,755.0 1125.0,753.8 1126.2,754.0 1127.5,753.2 1128.7,752.2 1130.0,752.0 1131.6,751.6 1133.1,753.7 1134.8,752.1 1136.4,753.9 1137.5,753.3 1138.7,753.5 1139.8,755.5 1140.9,753.7 1142.1,754.1 1143.2,753.9 1144.3,753.5 1145.5,753.7 1146.6,754.9 1147.7,755.9 1148.9,753.5 1150.0,756.5 1151.1,755.6 1152.2,753.6 1153.3,755.8 1154.4,754.8 1155.6,755.2 1156.7,753.8 1157.8,755.2 1158.9,755.2 1160.0,756.1 1161.1,755.4 1162.2,755.8 1163.3,755.9 1164.4,754.1 1165.6,753.4 1166.7,755.0 1167.8,753.8 1168.9,753.8 1170.0,754.4 1171.1,755.1 1172.2,755.4 1173.3,755.5 1174.4,756.5 1175.6,753.6 1176.7,755.1 1177.8,753.5 1178.9,755.5 1180.0,754.7 1181.1,753.6 1182.2,754.2 1183.3,755.4 1184.4,754.8 1185.6,756.4 1186.7,754.4 1187.8,754.4 1188.9,756.4 1190.0,755.4 1191.1,753.7 1192.2,756.1 1193.3,754.8 1194.4,756.9 1195.6,756.0 1196.7,756.7 1197.8,757.1 1198.9,756.0 1200.0,757.7 1201.1,754.6 1202.2,755.8 1203.3,757.6 1204.4,754.9 1205.6,757.3 1206.7,758.5 1207.8,757.6 1208.9,758.2 1210.0,755.6 1211.1,757.1 1212.2,757.4 1213.3,756.8 1214.4,756.7 1215.6,757.9 1216.7,755.7 1217.8,755.2 1218.9,757.0 1220.0,758.2 1221.1,757.7 1222.2,757.0 1223.3,755.7 1224.4,757.7 1225.6,754.7 1226.7,755.3 1227.8,757.1 1228.9,757.4 1230.0,755.7 1231.1,757.4 1232.2,754.7 1233.3,756.3 1234.4,754.5 1235.5,755.1 1236.7,754.9 1237.8,754.3 1238.9,755.7 1240.0,756.1 1241.1,755.3 1242.2,756.6 1243.3,754.6 1244.4,756.2 1245.5,756.2 1246.7,755.8 1247.8,757.5 1248.9,754.8 1250.0,755.8 1251.1,755.8 1252.3,755.4 1253.4,757.4 1254.5,755.9 1255.7,755.6 1256.8,755.2 1258.0,755.1 1259.1,756.7 1260.2,756.0 1261.4,755.4 1262.5,753.6 1263.7,754.9 1264.8,753.2 1266.0,753.9 1267.1,752.6 1268.2,754.9 1269.4,755.7 1270.5,754.5 1271.6,754.2 1272.7,753.1 1273.8,753.7 1275.0,753.7 1276.1,753.6 1277.2,753.0 1278.3,752.9 1279.4,754.7 1280.5,755.4 1281.6,754.9 1282.7,754.3 1283.8,752.2 1284.9,753.2 1286.1,755.1 1287.2,755.5 1288.3,754.1 1289.4,754.2 1290.5,754.6 1291.6,753.2 1292.8,754.8 1293.9,753.7 1295.1,755.4 1296.2,754.2 1297.4,755.0 1298.6,754.8 1299.7,754.8 1300.9,754.6 1302.0,756.4 1303.2,755.8 1304.3,754.8 1305.9,755.1 1307.6,756.5 1309.1,755.9 1310.6,755.5 1311.7,756.3 1312.9,753.3 1314.0,754.5 1315.1,754.2 1317.2,752.8 1319.2,753.8 1321.0,753.5 1322.6,751.6 1324.2,753.7 1325.6,756.2 1326.8,757.9 1328.0,757.5 1329.2,757.6 1330.4,753.1 1332.0,750.4 1333.8,752.8 1335.0,753.2 1336.2,752.6 1337.5,753.7 1338.8,756.6 1340.1,756.5 1341.5,755.3 1342.7,758.2 1343.9,757.1 1346.0,756.6 1347.1,756.9 1348.3,756.7 1350.2,754.9 1352.0,752.8 1353.3,754.0 1354.6,755.2 1355.8,756.5 1356.9,760.8 1358.0,760.2 1359.0,762.8 1359.8,757.5 1360.7,755.9 1362.0,755.1 1363.4,752.9 1365.1,757.2 1367.0,756.7 1368.9,757.4 1370.6,761.1 1372.0,760.6 1373.1,761.7 1373.8,757.1 1374.6,752.9 1376.0,750.8 1377.2,750.4 1378.5,752.1 1379.6,753.0 1380.7,749.8 1381.8,751.0 1383.1,751.7 1384.4,753.6 1385.6,754.0 1386.9,753.7 1388.2,752.8 1389.5,752.6 1390.7,751.2 1391.9,753.3 1393.1,751.5 1394.5,752.6 1396.0,755.5 1398.0,755.8 1399.8,758.7 1401.4,759.6 1402.7,760.4 1404.0,762.0 1405.2,761.0 1406.1,756.7 1407.0,756.8 1408.0,756.2 1409.1,753.6 1410.2,756.5 1411.5,762.5 1412.7,765.4 1413.9,765.7 1415.0,768.4 1415.9,765.9 1416.7,766.6 1417.4,762.5 1418.2,759.2 1419.0,755.4 1420.0,755.6 1421.3,756.7 1422.8,758.6 1424.4,760.9 1426.0,764.2 1427.6,768.9 1429.0,771.0 1430.3,769.7 1431.6,766.7 1432.8,765.1 1434.0,760.1 1435.0,759.7 1435.9,763.1 1436.7,762.3 1437.5,765.6 1438.2,771.3 1439.0,769.6 1439.8,768.7 1440.6,767.4 1441.5,766.5 1442.3,759.8 1443.2,761.6 1444.0,758.1 1444.8,760.2 1445.5,761.8 1446.2,763.2 1447.0,770.3 1447.9,769.9 1449.0,775.4 1450.3,777.9 1451.8,778.2 1453.4,782.7 1455.1,780.4 1456.6,782.0 1458.0,783.9 1459.2,781.1 1460.3,782.4 1461.3,778.4 1462.3,777.1 1463.2,772.7 1464.0,770.8 1464.8,776.0 1465.5,775.9 1466.1,780.6 1466.6,783.1 1467.2,788.2 1468.0,788.8 1468.9,786.7 1469.7,783.6 1470.7,782.1 1471.8,781.6 1473.0,777.4 1474.7,778.0 1476.6,780.9 1478.4,782.7 1480.0,785.4 1480.9,786.8 1481.5,790.6 1482.0,790.5 1482.4,797.0 1483.0,795.3 1484.0,797.2 1485.9,797.9 1488.1,801.0 1490.0,799.0 1491.0,799.6 1491.7,797.8 1492.2,795.3 1492.9,791.4 1494.0,788.3 1495.6,789.8 1497.6,787.7 1499.8,784.4 1502.0,785.2 1504.0,781.8 1506.1,780.6 1508.1,782.3 1510.1,781.4 1512.0,780.7 1513.6,778.7 1515.2,774.1 1516.8,775.2 1518.3,774.6 1520.0,771.8 1522.0,769.4 1524.2,767.2 1526.2,765.1 1528.0,767.6 1529.4,770.8 1530.6,769.6 1532.0,774.5 1533.7,774.4 1535.7,770.3 1537.9,771.1 1540.0,767.4 1542.0,769.4 1544.1,773.3 1546.2,778.1 1548.2,779.8 1550.2,780.2 1552.0,785.0 1553.5,782.4 1554.9,781.1 1556.2,775.7 1557.5,773.3 1558.8,770.0 1560.0,769.6 1561.3,771.3 1562.5,772.8 1563.7,776.0 1564.9,779.3 1566.0,779.2 1567.1,784.6 1568.2,786.5 1569.2,788.4 1570.2,790.7 1571.2,796.3 1572.0,795.7 1572.8,791.4 1573.2,790.6 1573.6,784.2 1574.1,779.1 1574.8,776.1 1576.0,770.7 1577.8,769.5 1579.9,770.1 1582.0,771.9 1583.9,768.8 1585.8,773.7 1587.5,775.0 1589.0,774.5 1589.8,779.0 1590.2,781.8 1590.5,785.4 1590.7,787.6 1591.2,788.9 1592.0,791.0 1593.2,789.3 1594.4,789.8 1595.7,789.1 1597.0,787.2 1598.2,789.2 1599.2,792.4 1600.2,795.9 1601.2,799.9 1602.1,803.2 1603.0,801.9 1603.9,802.6 1604.7,799.9 1605.5,797.0 1606.3,794.0 1607.2,795.2 1608.0,793.0 1608.9,790.3 1609.8,785.1 1610.8,783.2 1612.0,782.2 1613.4,783.5 1615.0,785.3 1616.8,785.2 1618.5,789.0 1620.0,791.9 1621.7,794.9 1623.2,794.4 1625.0,794.7 1626.6,797.8 1628.3,794.3 1630.2,791.8 1632.1,788.9 1634.1,787.7 1636.0,786.9 1638.0,787.3 1639.9,788.3 1641.9,791.3 1643.9,794.2 1646.0,793.1 1648.0,794.4 1650.1,795.6 1652.3,798.0 1654.4,798.2 1656.5,799.4 1658.5,795.5 1660.4,797.5 1662.2,793.5 1663.9,792.9 1665.5,790.8 1667.1,789.7 1668.5,788.2 1669.9,788.2 1671.1,790.4 1672.2,797.5 1673.3,799.7 1674.5,798.8 1675.9,796.4 1677.3,798.0 1678.8,794.1 1680.5,791.9 1682.2,791.2 1684.2,787.4 1686.3,786.1 1688.4,787.4 1690.5,785.9 1692.5,786.2 1694.5,783.4 1696.5,786.1 1698.5,785.9 1700.5,784.0 1702.5,785.1 1704.4,780.6 1706.4,778.9 1708.4,781.2 1710.5,777.4 1712.5,778.7 1714.6,779.6 1716.6,779.4 1718.7,777.5 1720.6,780.3 1722.6,777.4 1724.5,780.5 1726.4,782.6 1728.6,781.2 1729.7,779.9 1730.9,782.9 1732.1,781.2 1733.3,781.1 1734.6,781.0 1735.9,780.6 1737.2,778.4 1738.6,778.9 1739.9,777.0 1741.3,775.4 1742.6,775.2 1744.0,774.9 1745.5,773.8 1747.0,776.5 1748.7,775.5 1750.3,777.4 1751.4,774.8 1752.5,777.2 1753.6,775.5 1755.2,776.2 1756.8,776.4 1758.2,779.0 1759.6,778.4 1760.8,778.4 1762.0,778.0 1763.9,778.9 1765.4,781.6 1766.7,785.4 1768.0,785.8 1769.2,788.8 1770.3,792.0 1771.3,792.1 1772.2,795.8 1773.1,799.0 1774.0,801.1 1774.7,804.4 1775.3,808.2 1775.9,809.4 1776.4,813.9 1777.1,815.2 1778.0,818.5 1779.5,819.7 1781.2,824.0 1783.0,823.7 1784.3,824.4 1785.6,823.1 1787.0,819.7 1788.4,815.9 1790.0,815.6 1791.9,816.8 1793.9,815.3 1796.0,815.6 1798.0,814.9 1800.0,817.1 1802.0,818.2 1803.9,818.5 1806.0,819.3 1807.1,817.8 1808.3,817.5 1809.4,818.0 1810.6,819.5 1811.8,819.8 1812.9,819.5 1815.0,820.2 1816.8,818.7 1818.3,820.4 1819.7,823.2 1821.0,824.5 1822.1,828.8 1823.0,832.9 1823.9,835.2 1825.0,833.7 1826.0,834.7 1827.0,832.6 1828.1,829.7 1829.3,826.0 1830.6,823.2 1832.0,824.2 1833.8,824.9 1835.8,826.1 1838.0,828.2 1840.1,829.5 1842.2,833.1 1844.0,835.2 1845.6,837.0 1847.0,838.6 1848.4,841.4 1850.0,842.6 1851.9,841.7 1853.9,844.6 1856.0,841.8 1858.0,844.5 1859.5,842.4 1860.8,841.4 1862.2,838.7 1863.5,838.2 1864.7,837.0 1866.0,833.1 1867.4,830.7 1868.9,830.6 1870.3,826.5 1871.6,823.7 1872.9,822.4 1874.0,819.0 1875.0,816.5 1875.9,814.0 1876.7,810.6 1877.4,810.2 1878.2,806.7 1879.0,804.5 1879.8,801.2 1880.5,800.7 1881.3,799.3 1882.1,797.5 1883.0,792.5 1884.0,791.4 1885.2,788.6 1886.4,787.6 1887.8,786.0 1889.2,783.8 1890.6,781.1 1892.0,781.5 1894.0,778.4 1896.0,778.0 1898.0,775.8 1899.3,777.4 1900.6,777.7 1901.9,781.7 1903.3,784.6 1904.6,785.3 1906.0,787.4 1907.5,785.4 1909.1,785.2 1910.7,783.9 1912.3,781.6 1914.0,778.9 1915.6,777.7 1917.3,776.8 1918.9,776.3 1920.7,774.2 1922.3,772.2 1924.0,771.5 1926.0,770.1 1927.8,768.4 1929.8,768.9 1932.0,767.9 1934.2,767.1 1935.4,766.0 1936.6,768.8 1937.9,766.0 1939.2,766.2 1940.5,766.9 1941.7,768.6 1942.9,769.3 1944.1,769.0 1946.0,768.1 1947.5,771.6 1948.6,771.2 1949.5,773.8 1950.6,776.0 1952.0,779.2 1953.7,780.5 1955.7,781.7 1957.8,783.6 1960.0,783.6 1962.1,783.9 1964.0,782.0 1965.8,783.6 1967.4,782.2 1968.9,780.3 1970.4,776.2 1972.0,776.7 1973.6,774.7 1975.1,773.4 1976.6,771.3 1978.3,771.7 1980.0,771.0 1981.9,770.3 1983.9,768.5 1985.9,769.8 1988.0,767.7 1990.0,769.6 1992.0,767.5 1994.0,767.6 1996.0,768.1 1998.0,770.1 2000.0,771.5 2002.0,770.3 2004.1,771.4 2006.3,771.8 2008.4,773.3 2010.3,774.5 2012.0,775.0 2013.8,775.3 2015.2,776.8 2016.6,781.4 2018.0,780.3 2019.4,781.0 2020.8,779.4 2022.3,775.1 2024.0,774.0 2025.8,774.9 2027.8,777.1 2029.9,778.3 2032.0,779.9 2034.0,778.3 2036.1,779.5 2038.1,780.1 2040.1,778.4 2042.0,779.3 2044.1,779.3 2046.3,783.1 2048.3,783.3 2050.0,784.0 2051.4,783.1 2052.5,779.5 2054.0,779.0 2056.0,776.8 2057.1,776.4 2058.3,776.9 2059.5,776.6 2060.8,776.5 2061.9,777.1 2063.0,777.0 2064.8,776.6 2066.4,778.9 2068.0,781.2 2070.0,779.6 2071.1,781.6 2072.3,781.2 2073.6,780.6 2074.9,779.5 2076.3,779.7 2077.8,780.8 2079.2,780.9 2080.7,780.8 2082.2,779.6 2083.7,779.7 2085.1,779.3 2086.5,776.9 2087.9,778.5 2089.3,779.0 2090.7,778.5 2092.2,776.9 2093.6,778.2 2095.0,777.2 2096.4,777.3 2097.8,778.3 2099.1,778.2 2100.3,776.5 2102.5,778.5 2104.6,777.2 2106.3,778.5 2108.1,781.3 2110.1,782.6 2112.2,781.6 2114.3,784.2 2116.2,782.5 2117.9,782.4 2119.3,780.0 2121.1,777.7 2123.3,778.3 2124.6,778.7 2125.9,779.6 2127.2,777.2 2128.5,777.7 2129.6,776.5 2130.8,776.9 2132.4,775.8 2133.9,775.6 2135.3,774.1 2136.7,770.2 2138.1,770.4 2139.6,771.3 2141.1,773.1 2142.6,776.8 2144.1,778.5 2145.4,776.3 2146.7,776.6 2147.7,775.0 2148.9,773.2 2150.3,771.4 2152.1,772.0 2154.2,769.8 2156.4,771.3 2158.4,772.4 2159.5,769.8 2160.6,769.5 2162.7,769.7 2164.9,767.0 2166.9,767.0 2168.9,764.3 2170.9,763.2 2173.0,762.7 2175.1,763.5 2177.3,762.6 2179.4,762.5 2181.1,762.8 2182.8,763.5 2184.3,766.4 2185.8,764.1 2187.5,762.1 2189.2,758.6 2190.4,758.8 2191.5,759.4 2192.8,760.2 2194.0,759.1 2196.1,755.8 2197.2,757.5 2198.4,754.9 2200.5,755.4 2201.8,754.6 2203.0,754.6 2204.2,757.2 2205.4,756.7 2206.8,755.9 2208.1,754.3 2209.4,751.5 2210.7,748.6 2211.9,746.4 2213.8,744.7 2215.5,742.7 2216.5,743.8 2217.4,747.8 2218.2,749.1 2219.0,752.7 2219.9,755.5 2220.8,757.7 2221.5,759.9 2221.9,756.9 2222.1,751.9 2222.1,749.3 2222.1,743.1 2222.2,737.7 2222.5,734.3 2223.0,729.6 2223.6,727.1 2224.5,726.4 2226.0,728.2 2227.5,727.3 2229.1,731.0 2230.5,734.5 2231.0,733.9 2231.4,735.2 2231.7,737.8 2232.0,741.5 2232.2,742.2 2232.5,746.4 2232.8,746.4 2233.0,751.4 2233.5,751.5 2235.5,753.5" fill="none" stroke="#ff0000" stroke-width="9" stroke-linejoin="round" stroke-linecap="round"/>
<polyline points="91.0,1027.5 92.0,1028.3 93.4,1028.1 94.7,1028.8 95.9,1029.1 97.2,1028.2 98.4,1028.3 99.8,1030.2 101.2,1029.4 102.6,1029.6 104.0,1031.4 105.3,1030.7 106.7,1031.7 107.8,1031.3 108.9,1032.0 110.0,1031.3 111.1,1032.8 112.2,1033.7 114.3,1034.3 116.4,1036.0 118.3,1037.1 120.2,1036.7 122.0,1038.5 124.1,1037.8 126.1,1036.2 128.0,1034.6 130.0,1035.7 132.0,1035.4 134.0,1037.0 136.0,1038.3 138.0,1038.4 139.2,1038.4 140.5,1036.4 141.7,1037.9 142.9,1035.1 145.0,1037.4 146.1,1038.5 146.8,1036.6 147.4,1039.6 148.1,1042.3 149.0,1047.6 150.3,1043.9 151.7,1042.9 153.3,1038.7 154.7,1037.8 156.0,1036.4 157.2,1037.7 158.1,1042.0 159.0,1045.1 160.0,1048.3 161.2,1045.8 162.5,1044.4 163.8,1041.2 165.0,1040.7 165.8,1040.0 166.4,1039.5 166.9,1046.5 167.5,1050.2 168.2,1052.2 169.0,1051.4 170.0,1051.4 171.3,1046.6 172.6,1047.3 173.9,1043.2 175.0,1039.5 176.0,1037.6 176.8,1043.5 177.4,1047.9 177.9,1047.4 178.2,1055.9 178.6,1057.1 179.0,1057.0 179.4,1056.5 179.8,1055.7 180.2,1051.7 180.6,1042.5 181.2,1042.2 182.0,1037.5 183.0,1042.1 184.1,1042.4 185.4,1048.5 186.7,1051.6 188.0,1050.0 189.5,1051.7 191.2,1045.4 192.7,1041.6 194.0,1043.6 194.7,1041.6 195.2,1045.1 195.6,1049.6 195.9,1054.0 196.4,1054.0 197.0,1054.4 197.9,1058.0 199.1,1052.1 200.3,1052.1 201.6,1048.1 202.8,1042.4 204.0,1041.8 205.0,1043.2 206.0,1046.4 207.0,1049.5 208.0,1052.6 209.0,1055.6 210.0,1058.5 211.1,1055.2 212.1,1052.5 213.2,1051.3 214.5,1046.1 216.0,1044.9 217.8,1048.3 219.8,1045.9 222.0,1046.6 224.1,1044.4 226.0,1047.5 227.8,1049.5 229.5,1047.6 231.1,1052.3 232.6,1054.0 234.0,1052.5 235.2,1057.9 236.2,1059.7 237.1,1063.7 238.0,1064.5 238.9,1068.4 240.0,1069.3 241.3,1064.5 242.7,1062.4 244.3,1062.9 245.7,1061.6 247.0,1055.4 248.0,1055.8 248.6,1057.6 248.8,1058.4 248.9,1061.7 249.0,1064.4 249.3,1067.2 250.0,1069.5 251.3,1067.2 253.0,1065.3 254.9,1064.6 256.9,1057.4 258.6,1058.2 260.0,1058.3 260.8,1057.2 261.3,1059.4 261.7,1065.8 262.2,1065.3 263.0,1066.2 264.2,1067.0 265.7,1066.6 267.4,1060.8 269.1,1059.5 270.7,1057.7 272.0,1059.9 273.0,1058.6 273.8,1063.1 274.5,1062.1 275.1,1066.1 275.9,1070.7 277.0,1074.2 278.6,1073.6 280.5,1074.1 282.3,1074.7 284.0,1077.2 285.2,1074.0 286.1,1074.8 286.8,1071.5 287.6,1064.3 288.6,1061.8 290.0,1062.7 292.1,1060.6 293.4,1061.2 294.7,1058.4 295.9,1057.2 297.1,1058.1 299.0,1061.6 299.9,1060.9 300.2,1065.0 300.1,1069.8 299.8,1074.1 299.7,1077.2 300.0,1081.4 300.7,1075.9 301.7,1071.9 302.8,1073.0 304.0,1068.5 305.1,1066.0 306.0,1061.6 306.7,1065.7 307.4,1068.6 308.0,1068.4 308.6,1075.2 309.2,1078.7 310.0,1078.9 310.8,1077.0 311.7,1072.8 312.7,1069.3 313.7,1064.8 314.8,1060.9 316.0,1062.5 317.2,1061.2 318.4,1065.4 319.7,1063.0 321.1,1070.0 322.6,1071.1 324.0,1074.4 325.7,1076.5 327.5,1079.0 329.3,1079.8 331.2,1079.3 333.1,1084.9 335.0,1083.4 337.1,1084.3 339.2,1085.7 341.3,1084.7 343.0,1084.6 344.2,1089.1 345.1,1090.6 345.7,1092.8 346.3,1095.9 347.0,1101.6 348.0,1100.9 349.1,1102.2 350.5,1098.9 351.9,1096.5 353.3,1096.2 354.7,1095.5 356.0,1090.4 357.4,1091.0 358.6,1088.8 359.8,1085.2 361.0,1082.4 362.4,1075.6 364.0,1076.6 365.8,1076.3 367.9,1071.1 370.0,1071.3 372.1,1070.6 374.0,1071.1 376.0,1069.7 378.0,1069.1 380.0,1070.4 381.8,1067.0 383.7,1068.2 385.7,1069.8 387.8,1071.1 390.0,1071.8 391.1,1076.7 392.3,1076.5 393.5,1072.9 394.7,1075.3 396.0,1074.7 397.3,1074.9 398.5,1075.4 399.7,1077.1 400.9,1077.2 402.0,1076.4 404.0,1076.5 405.8,1078.4 407.3,1078.7 408.6,1082.5 410.0,1085.1 411.3,1085.4 412.7,1086.1 414.0,1089.0 415.3,1092.5 416.6,1096.1 418.0,1099.4 419.4,1099.7 420.8,1102.8 422.3,1105.1 423.7,1107.3 425.1,1109.6 426.5,1112.0 427.6,1114.4 428.6,1116.8 429.6,1119.4 430.7,1121.6 431.9,1123.4 433.5,1125.0 435.3,1125.8 437.4,1125.7 438.5,1125.9 439.7,1125.8 440.9,1126.0 442.0,1125.9 443.2,1125.6 444.3,1125.9 446.5,1126.1 448.6,1126.6 450.5,1127.7 452.5,1128.7 454.4,1130.2 456.4,1131.2 458.5,1132.2 459.6,1132.5 460.7,1132.8 461.9,1133.2 463.0,1133.4 464.2,1133.5 465.3,1134.0 466.5,1133.9 467.7,1134.2 468.9,1134.7 470.1,1134.5 471.3,1134.7 472.5,1134.8 473.8,1135.2 475.1,1134.9 476.5,1134.8 477.8,1135.2 479.2,1134.8 480.6,1135.0 482.0,1134.8 483.3,1134.8 484.6,1134.7 486.0,1134.3 487.2,1134.3 488.5,1133.8 489.7,1134.0 490.9,1133.7 492.1,1133.5 493.3,1133.0 494.4,1133.1 495.5,1133.0 496.7,1132.3 497.8,1132.3 498.9,1132.2 500.0,1132.2 502.0,1131.6 504.0,1131.3 505.9,1131.2 507.9,1131.2 510.0,1131.2 511.1,1131.0 512.2,1131.0 513.4,1131.0 514.5,1131.0 515.7,1131.1 517.0,1131.0 518.2,1131.3 519.4,1131.6 520.5,1131.5 521.7,1131.8 522.9,1131.7 524.0,1132.2 526.1,1132.8 528.1,1133.5 530.1,1134.3 532.1,1135.2 534.0,1136.2 536.0,1137.3 538.0,1138.0 540.0,1139.3 542.0,1141.0 544.0,1142.2 546.0,1142.8 548.0,1143.1 549.1,1142.9 550.2,1142.4 552.4,1141.2 553.5,1140.3 554.6,1139.7 555.8,1138.7 556.9,1137.7 558.1,1137.1 559.4,1136.5 560.7,1135.6 562.0,1135.2 563.2,1134.8 564.4,1134.8 565.6,1134.4 566.9,1134.2 568.1,1134.1 569.4,1133.9 570.8,1134.1 572.2,1134.1 573.5,1134.0 574.9,1134.1 576.3,1134.2 577.7,1134.4 579.1,1134.1 580.5,1134.5 581.9,1134.3 583.3,1134.3 584.7,1134.2 586.1,1134.3 587.5,1134.1 589.0,1133.8 590.4,1133.6 591.8,1133.5 593.3,1133.4 594.7,1133.0 596.1,1132.9 597.6,1132.8 599.0,1132.3 600.5,1132.0 601.9,1131.7 603.4,1131.7 604.9,1131.4 606.3,1131.3 607.8,1131.0 608.9,1130.5 610.0,1130.3 611.1,1130.2 612.2,1129.9 613.4,1130.0 614.5,1129.9 615.7,1129.7 616.9,1129.2 618.1,1129.3 619.3,1128.8 620.5,1128.7 621.6,1128.6 622.8,1128.1 624.0,1127.9 625.2,1128.1 626.4,1127.6 627.6,1127.4 628.8,1127.3 630.0,1127.2 631.2,1126.6 632.3,1126.6 633.5,1126.4 634.7,1126.2 635.8,1125.9 637.3,1125.7 638.7,1125.6 640.2,1125.0 641.4,1124.8 642.6,1124.4 643.8,1124.2 644.9,1124.1 646.1,1123.5 647.2,1123.6 648.3,1123.3 649.4,1122.6 650.5,1122.7 652.2,1122.0 653.8,1121.7 655.4,1121.3 657.0,1120.7 658.6,1120.5 660.2,1120.2 661.6,1120.0 663.0,1119.4 664.4,1119.4 665.8,1119.2 667.2,1118.8 668.6,1118.5 669.9,1118.1 671.2,1118.1 672.5,1118.0 673.8,1118.1 675.0,1118.1 676.2,1118.1 678.4,1118.4 680.4,1119.2 682.4,1120.0 684.3,1120.8 686.3,1122.3 688.3,1123.7 690.3,1125.5 692.2,1128.0 694.2,1129.6 696.2,1131.3 698.3,1132.2 700.3,1131.8 702.3,1130.6 704.3,1129.1 706.4,1127.4 708.4,1126.2 710.3,1125.9 712.4,1127.1 714.4,1129.8 716.4,1132.9 718.3,1135.8 720.3,1138.2 722.3,1139.0 724.3,1138.4 726.3,1136.9 728.4,1134.9 730.4,1132.3 732.4,1130.8 734.3,1130.0 735.9,1130.8 737.4,1131.9 738.9,1133.5 740.5,1135.0 742.3,1136.1 743.5,1136.5 744.7,1136.5 746.0,1136.8 747.3,1136.5 748.8,1136.5 750.2,1136.3 751.7,1136.2 753.1,1136.3 754.5,1136.1 755.9,1135.5 757.1,1135.2 758.4,1135.1 759.5,1134.9 760.6,1134.6 762.8,1133.7 764.8,1132.6 766.6,1131.2 768.4,1130.0 770.0,1128.2 771.4,1126.1 772.8,1123.8 774.1,1121.8 775.4,1121.0 776.5,1121.9 777.7,1122.1 779.0,1123.4 780.4,1124.3 781.6,1124.3 782.9,1124.0 784.4,1123.8 785.9,1123.4 787.0,1123.1 788.2,1123.0 789.3,1122.5 790.5,1121.9 791.7,1121.8 793.0,1121.2 794.2,1120.8 795.4,1120.5 796.7,1119.8 797.9,1119.8 799.2,1119.5 800.4,1119.1 801.9,1118.8 803.3,1118.5 804.8,1118.1 805.9,1118.1 807.1,1117.7 808.2,1117.7 809.4,1117.6 810.6,1117.3 811.8,1117.2 812.9,1117.3 814.1,1117.0 815.3,1116.5 816.5,1116.7 817.7,1116.4 818.9,1116.0 820.1,1116.0 821.3,1115.8 822.6,1115.6 823.8,1115.6 824.9,1115.7 826.1,1115.3 827.3,1115.4 828.5,1115.2 829.7,1114.8 830.8,1115.1 832.0,1114.8 833.2,1114.9 834.4,1114.7 835.6,1114.6 836.7,1114.3 837.9,1114.5 839.1,1114.5 840.3,1114.4 841.5,1114.1 842.6,1114.2 843.8,1114.0 845.0,1113.7 846.2,1113.6 847.3,1113.6 848.5,1113.6 849.6,1113.5 850.8,1113.6 852.0,1113.6 853.1,1113.4 854.2,1113.3 855.4,1113.3 856.5,1113.0 857.9,1112.9 859.2,1112.9 860.6,1112.6 861.9,1112.3 863.2,1112.5 864.5,1112.2 865.9,1111.8 867.2,1111.6 868.5,1111.5 869.8,1111.4 871.1,1111.0 872.4,1110.7 873.7,1110.6 875.0,1110.8 876.4,1110.3 877.7,1110.3 879.1,1110.1 880.5,1110.0 881.7,1109.9 882.8,1110.0 884.0,1109.8 885.2,1109.7 886.4,1109.7 887.6,1109.7 888.7,1109.9 889.9,1109.6 891.1,1109.6 892.4,1109.9 893.6,1109.9 894.8,1110.0 896.0,1109.7 897.2,1109.9 898.5,1109.9 899.7,1109.8 901.0,1110.3 902.3,1109.9 903.5,1109.8 904.8,1110.0 906.1,1109.9 907.4,1110.1 908.7,1109.9 910.0,1109.8 911.3,1109.7 912.5,1110.0 913.8,1109.8 915.0,1110.0 916.3,1109.8 917.6,1110.0 918.9,1109.6 920.2,1109.5 921.5,1109.5 922.8,1109.7 923.9,1109.6 925.0,1109.4 926.1,1109.2 927.2,1109.4 928.3,1109.5 929.4,1109.3 930.6,1108.9 931.7,1108.9 932.8,1108.8 934.0,1108.8 935.1,1108.7 936.2,1108.6 937.4,1108.9 938.5,1108.9 939.7,1108.5 940.8,1108.9 942.0,1108.5 943.1,1108.6 944.3,1108.6 945.4,1108.6 946.6,1108.1 947.7,1108.1 948.9,1108.2 950.0,1108.3 951.2,1107.8 952.5,1107.8 953.7,1108.0 955.0,1107.6 956.2,1107.7 957.5,1107.6 958.7,1107.6 960.0,1107.7 961.2,1107.2 962.5,1107.4 963.7,1107.3 965.0,1107.3 966.3,1107.1 967.5,1107.2 968.8,1106.8 970.1,1106.7 971.3,1106.5 972.6,1106.7 973.7,1106.5 974.8,1106.3 975.9,1106.2 977.0,1106.4 978.1,1106.3 979.2,1106.2 980.3,1106.0 981.5,1106.0 982.6,1105.7 983.7,1105.9 984.8,1105.5 985.9,1105.7 987.0,1105.7 988.2,1105.6 989.3,1105.3 990.4,1105.3 991.6,1105.5 992.7,1105.4 993.8,1105.4 995.0,1105.4 996.1,1105.1 997.2,1105.3 998.4,1105.1 999.5,1104.9 1000.7,1104.9 1001.8,1104.7 1003.0,1104.8 1004.1,1105.1 1005.3,1104.6 1006.5,1104.9 1007.8,1104.6 1009.0,1104.6 1010.2,1104.9 1011.5,1104.7 1012.7,1104.6 1013.9,1104.6 1015.2,1104.9 1016.3,1104.8 1017.4,1104.5 1018.5,1104.7 1019.6,1105.0 1020.7,1104.6 1021.8,1104.8 1022.9,1104.7 1024.0,1104.9 1025.1,1104.8 1026.3,1104.9 1027.5,1104.8 1028.7,1104.6 1029.9,1104.5 1031.1,1104.5 1032.3,1104.8 1033.5,1104.4 1034.7,1104.4 1035.9,1104.8 1037.1,1104.3 1038.3,1104.6 1039.6,1104.1 1040.8,1104.2 1042.0,1104.1 1043.2,1104.3 1044.4,1104.0 1045.6,1103.9 1046.7,1103.7 1047.9,1103.6 1049.0,1103.2 1050.2,1103.2 1051.7,1102.6 1053.2,1101.9 1054.5,1101.6 1055.8,1100.9 1057.0,1100.3 1058.1,1099.2 1060.2,1098.1 1062.2,1097.3 1064.2,1097.2 1066.0,1097.7 1067.7,1099.3 1069.3,1101.2 1070.7,1102.4 1072.2,1103.1 1073.7,1102.3 1075.0,1100.2 1076.5,1098.3 1078.2,1097.2 1080.0,1097.1 1082.0,1098.0 1084.2,1099.6 1085.4,1100.0 1086.6,1100.8 1088.0,1101.3 1089.3,1102.0 1090.8,1102.5 1092.3,1103.3 1093.6,1103.4 1094.8,1103.6 1096.1,1103.8 1097.3,1103.7 1098.6,1104.1 1099.8,1103.9 1101.1,1103.8 1102.3,1104.1 1103.6,1104.1 1104.8,1104.2 1106.1,1104.0 1107.3,1104.1 1108.5,1103.8 1109.6,1104.1 1110.8,1104.0 1112.0,1103.7 1113.2,1104.0 1114.4,1103.5 1115.6,1103.4 1116.9,1103.7 1118.1,1103.4 1119.4,1103.5 1120.6,1103.5 1121.9,1103.1 1123.1,1103.4 1124.4,1103.2 1125.6,1103.2 1126.9,1103.1 1128.1,1103.3 1129.4,1103.2 1130.7,1103.0 1131.9,1102.8 1133.1,1102.9 1134.3,1103.0 1135.5,1102.9 1136.7,1102.9 1137.9,1103.2 1139.1,1103.2 1140.3,1103.3 1141.5,1103.4 1142.7,1103.4 1143.9,1103.2 1145.1,1103.2 1146.3,1103.3 1147.5,1103.5 1148.7,1103.6 1149.9,1103.7 1151.1,1103.7 1152.3,1104.0 1153.5,1103.8 1154.7,1104.0 1155.9,1104.3 1157.1,1104.4 1158.3,1104.2 1159.6,1104.3 1160.8,1104.7 1162.0,1104.4 1163.2,1104.6 1164.4,1104.9 1165.6,1105.0 1166.8,1104.9 1168.0,1105.0 1169.3,1105.2 1170.5,1105.6 1171.7,1105.5 1172.9,1105.9 1174.1,1105.9 1175.3,1106.1 1176.4,1105.7 1177.6,1105.9 1178.8,1105.9 1180.0,1106.2 1181.2,1106.3 1182.4,1106.3 1183.5,1106.6 1184.7,1106.5 1185.8,1106.7 1187.0,1106.7 1188.1,1107.1 1189.3,1107.0 1190.4,1107.0 1191.6,1106.9 1192.7,1107.2 1193.9,1107.4 1195.0,1107.5 1196.2,1107.7 1197.3,1107.7 1198.4,1107.5 1199.6,1107.5 1200.7,1107.9 1201.8,1108.0 1202.9,1107.9 1204.1,1108.1 1205.2,1108.0 1206.3,1108.0 1207.4,1108.0 1208.5,1108.0 1209.6,1108.3 1210.7,1108.5 1212.0,1108.6 1213.3,1108.4 1214.6,1108.6 1215.9,1108.8 1217.2,1108.8 1218.5,1108.7 1219.8,1108.7 1221.2,1108.8 1222.5,1108.7 1223.8,1108.7 1224.9,1109.0 1226.0,1109.2 1227.1,1109.0 1228.2,1109.0 1229.3,1109.0 1230.4,1109.1 1231.5,1109.3 1232.7,1109.1 1233.8,1109.4 1235.0,1109.0 1236.1,1109.1 1237.2,1109.3 1238.4,1109.2 1239.6,1109.5 1240.8,1109.5 1241.9,1109.5 1243.1,1109.4 1244.3,1109.1 1245.4,1109.4 1246.6,1109.4 1247.8,1109.4 1249.0,1109.3 1250.1,1109.5 1251.3,1109.6 1252.5,1109.2 1253.6,1109.5 1254.7,1109.4 1255.9,1109.4 1257.0,1109.6 1258.2,1109.6 1259.5,1109.5 1260.7,1109.2 1262.0,1109.6 1263.3,1109.2 1264.6,1109.3 1265.8,1109.4 1267.0,1109.1 1268.1,1109.1 1269.3,1109.4 1270.5,1109.3 1271.7,1108.9 1273.0,1108.9 1274.2,1108.7 1275.4,1108.5 1276.5,1108.4 1277.7,1108.7 1279.3,1108.0 1280.9,1107.9 1282.5,1107.7 1284.1,1107.4 1285.7,1107.5 1287.2,1107.4 1288.9,1107.4 1290.5,1107.2 1291.7,1107.2 1292.8,1106.8 1294.0,1106.9 1295.2,1107.2 1296.4,1106.8 1297.7,1106.8 1298.9,1106.9 1300.1,1106.4 1301.3,1107.1 1302.5,1105.9 1303.7,1106.4 1304.8,1108.2 1306.4,1106.5 1308.0,1108.5 1309.3,1107.0 1310.6,1109.3 1311.8,1109.2 1313.0,1109.9 1314.9,1110.4 1316.6,1111.0 1317.7,1112.0 1318.9,1109.9 1320.0,1109.3 1321.2,1110.6 1322.4,1110.6 1323.9,1108.5 1325.4,1110.7 1326.6,1109.7 1327.8,1109.4 1329.0,1108.8 1330.3,1109.6 1331.5,1111.1 1332.8,1109.5 1334.1,1109.3 1335.3,1109.5 1336.5,1109.6 1337.7,1110.3 1338.8,1111.8 1340.0,1110.0 1341.6,1110.6 1343.2,1112.8 1344.8,1113.5 1346.5,1114.0 1348.1,1112.9 1349.7,1113.8 1351.3,1115.8 1352.8,1115.2 1354.2,1116.1 1355.6,1115.5 1356.8,1114.8 1358.0,1115.6 1359.1,1116.0 1360.2,1115.5 1362.0,1113.1 1364.0,1111.9 1365.7,1112.6 1367.5,1113.6 1369.4,1115.3 1371.2,1117.3 1373.0,1116.3 1374.7,1116.7 1376.3,1116.3 1378.0,1114.7 1380.0,1112.2 1381.2,1114.0 1382.3,1113.6 1383.7,1112.0 1385.0,1112.2 1386.5,1112.2 1388.0,1112.0 1389.4,1114.4 1390.9,1113.3 1392.3,1114.8 1393.6,1113.3 1394.8,1113.4 1396.0,1115.9 1397.8,1116.7 1399.4,1118.5 1400.8,1119.1 1402.3,1120.1 1404.0,1121.6 1405.9,1120.8 1408.0,1122.5 1409.2,1122.6 1410.3,1122.1 1412.4,1123.6 1414.4,1122.9 1416.0,1123.0 1417.6,1120.8 1418.6,1118.0 1420.0,1116.7 1421.3,1117.8 1422.9,1120.2 1424.5,1122.2 1426.3,1124.2 1428.2,1125.9 1430.0,1125.5 1432.0,1126.8 1434.1,1123.9 1436.2,1121.9 1438.4,1121.3 1440.3,1120.7 1442.0,1119.6 1443.5,1121.6 1444.6,1123.1 1445.6,1127.5 1446.7,1128.6 1448.0,1129.9 1449.9,1129.6 1452.1,1128.9 1454.2,1127.6 1456.0,1126.1 1457.2,1127.2 1458.2,1130.0 1459.0,1130.9 1460.0,1132.8 1461.3,1132.6 1462.7,1129.9 1464.0,1126.9 1465.0,1129.9 1465.9,1131.1 1466.8,1135.4 1467.8,1136.4 1469.0,1137.3 1470.9,1137.4 1473.1,1136.5 1475.0,1134.8 1476.3,1137.7 1477.4,1140.8 1478.2,1144.4 1478.8,1149.2 1479.4,1154.3 1480.0,1157.9 1480.4,1160.2 1480.7,1162.7 1480.9,1165.0 1481.3,1166.4 1482.0,1167.6 1483.5,1170.0 1485.4,1172.2 1487.0,1173.1 1487.7,1171.3 1488.1,1168.4 1488.3,1165.1 1488.6,1161.3 1489.1,1157.6 1490.0,1156.0 1491.9,1155.6 1493.0,1155.0 1494.1,1155.2 1496.0,1154.4 1497.1,1152.3 1497.8,1149.2 1498.3,1145.0 1498.8,1141.8 1499.3,1138.6 1500.0,1138.5 1501.0,1138.5 1502.0,1140.5 1503.1,1143.6 1504.0,1145.7 1505.0,1151.4 1505.5,1160.2 1505.9,1168.9 1506.5,1176.9 1507.4,1183.7 1509.0,1187.8 1510.2,1187.7 1511.4,1189.1 1512.7,1188.0 1514.0,1187.7 1515.6,1187.3 1517.3,1186.5 1519.0,1185.3 1520.6,1184.0 1522.0,1182.2 1523.3,1177.7 1524.0,1171.4 1524.2,1165.9 1524.4,1159.0 1524.9,1152.9 1526.0,1149.9 1528.0,1148.5 1530.0,1148.6 1530.9,1148.9 1531.7,1151.5 1532.3,1155.1 1533.0,1157.7 1534.0,1159.5 1535.4,1158.5 1537.1,1155.8 1538.7,1153.7 1540.0,1153.1 1540.8,1154.8 1541.4,1156.8 1541.8,1160.6 1542.1,1163.7 1542.5,1167.1 1543.0,1167.4 1543.6,1167.4 1544.2,1164.1 1544.9,1160.2 1545.7,1155.3 1546.7,1151.6 1548.0,1149.0 1549.6,1147.5 1551.4,1145.4 1553.4,1143.7 1555.3,1143.7 1557.0,1143.2 1558.2,1143.7 1559.3,1144.7 1560.3,1146.7 1561.2,1149.7 1562.1,1151.2 1563.0,1154.0 1564.3,1158.4 1565.6,1163.3 1566.7,1169.4 1567.8,1175.1 1568.9,1180.2 1570.0,1184.3 1570.8,1186.3 1571.6,1188.9 1572.4,1191.7 1573.2,1193.2 1574.0,1193.6 1574.9,1193.2 1575.8,1189.3 1576.7,1185.7 1577.7,1181.0 1578.8,1175.4 1580.0,1172.5 1581.2,1169.0 1582.4,1165.7 1583.8,1162.7 1585.2,1160.0 1586.6,1158.7 1588.0,1157.9 1589.3,1158.8 1590.7,1160.0 1592.1,1160.8 1593.5,1163.4 1594.8,1165.7 1596.0,1167.6 1597.4,1171.0 1598.6,1175.3 1599.7,1180.2 1600.8,1183.8 1601.9,1186.4 1603.0,1187.7 1604.1,1186.6 1605.1,1183.4 1606.1,1178.5 1607.2,1174.0 1608.5,1168.9 1610.0,1166.2 1611.4,1164.4 1612.9,1162.3 1614.5,1161.8 1616.2,1160.5 1618.0,1160.0 1619.9,1160.0 1621.8,1160.2 1623.9,1160.5 1625.9,1160.7 1628.0,1162.3 1630.0,1163.2 1632.0,1163.6 1634.1,1164.7 1636.1,1165.4 1638.1,1167.3 1640.0,1168.2 1641.8,1168.8 1643.6,1170.6 1645.3,1172.0 1646.9,1172.6 1648.5,1174.9 1650.0,1176.0 1651.9,1178.9 1653.5,1184.0 1655.1,1188.3 1656.6,1193.0 1658.0,1195.9 1659.5,1196.5 1661.0,1195.2 1662.3,1191.0 1663.6,1184.6 1665.0,1178.4 1666.6,1173.5 1668.5,1169.9 1670.4,1169.5 1672.6,1170.0 1674.7,1170.7 1676.5,1169.6 1677.6,1168.1 1678.5,1166.8 1679.2,1164.0 1679.9,1161.3 1680.6,1160.2 1681.5,1159.5 1682.5,1159.7 1683.6,1162.2 1684.8,1164.5 1686.0,1167.0 1687.2,1168.6 1688.5,1169.4 1690.5,1169.8 1692.6,1168.5 1694.5,1167.8 1695.9,1170.8 1696.9,1176.5 1697.5,1182.9 1698.0,1190.1 1698.6,1195.0 1699.5,1196.9 1700.5,1195.2 1701.5,1192.2 1702.6,1187.1 1703.7,1182.3 1705.0,1176.9 1706.5,1173.9 1708.3,1171.7 1710.4,1170.6 1712.5,1169.1 1714.4,1166.1 1716.4,1162.8 1718.5,1159.9 1720.7,1156.3 1722.7,1154.2 1724.6,1152.6 1726.5,1152.8 1728.3,1154.5 1730.0,1156.5 1731.3,1158.0 1732.5,1159.6 1733.6,1161.6 1734.8,1162.8 1736.0,1163.7 1737.2,1163.0 1738.4,1161.8 1739.6,1158.5 1740.8,1157.5 1742.0,1156.0 1743.7,1156.3 1745.4,1157.6 1747.0,1160.6 1748.3,1163.4 1749.3,1169.4 1750.2,1175.7 1751.0,1181.3 1751.9,1185.8 1753.0,1188.6 1754.2,1187.7 1755.5,1185.7 1756.9,1183.2 1758.0,1179.5 1758.8,1176.9 1759.4,1172.7 1759.8,1167.5 1760.3,1163.6 1760.9,1161.0 1762.0,1158.8 1763.1,1159.5 1764.5,1159.8 1765.9,1162.0 1767.4,1163.5 1768.8,1166.0 1770.0,1167.8 1771.2,1171.5 1772.0,1175.1 1772.7,1178.9 1773.5,1183.0 1774.5,1185.8 1776.0,1188.4 1777.8,1188.5 1779.8,1189.2 1780.9,1189.2 1782.0,1188.9 1784.2,1188.1 1786.0,1187.6 1787.7,1186.8 1789.1,1184.4 1790.4,1183.3 1792.0,1182.0 1793.9,1183.1 1795.8,1184.4 1797.9,1185.8 1800.0,1185.8 1802.0,1184.3 1804.1,1182.5 1806.3,1179.8 1808.4,1177.2 1810.3,1174.3 1812.0,1173.6 1813.3,1175.9 1814.2,1178.4 1814.9,1181.7 1815.7,1185.6 1816.6,1187.9 1818.0,1190.1 1819.7,1190.1 1821.8,1188.9 1823.9,1186.9 1826.1,1185.7 1828.0,1186.1 1830.0,1188.3 1831.7,1190.9 1833.4,1194.9 1835.0,1199.1 1836.5,1203.1 1838.0,1203.9 1839.3,1202.9 1840.5,1201.1 1841.6,1197.7 1842.8,1194.8 1844.0,1194.2 1845.2,1194.3 1846.4,1196.9 1847.5,1200.1 1848.8,1201.7 1850.0,1202.4 1851.3,1202.0 1852.6,1199.4 1853.9,1197.0 1855.3,1192.9 1856.6,1191.3 1858.0,1189.9 1859.5,1191.6 1860.9,1194.1 1862.4,1198.1 1863.9,1201.6 1865.4,1204.4 1867.0,1205.9 1868.5,1205.9 1870.1,1204.0 1871.7,1201.7 1873.3,1199.4 1874.7,1196.2 1876.0,1193.8 1877.4,1189.8 1878.5,1184.8 1879.4,1179.4 1880.1,1173.6 1881.0,1168.0 1882.0,1163.4 1882.8,1160.6 1883.7,1157.3 1884.5,1154.8 1885.5,1151.7 1886.6,1150.0 1888.0,1148.1 1889.9,1147.4 1891.0,1147.4 1892.1,1147.1 1894.3,1146.8 1896.0,1145.8 1897.1,1143.0 1897.5,1140.4 1897.6,1135.8 1897.5,1131.0 1897.5,1127.9 1898.0,1124.1 1898.8,1121.2 1899.8,1118.0 1900.9,1115.4 1902.0,1115.6 1902.9,1115.7 1903.9,1118.7 1904.9,1123.1 1906.0,1125.7 1907.0,1128.9 1908.0,1130.0 1909.0,1129.0 1909.9,1127.9 1910.9,1124.6 1911.9,1121.1 1912.9,1118.6 1914.0,1115.4 1915.2,1113.7 1916.4,1111.3 1917.7,1108.6 1919.0,1105.1 1920.4,1103.8 1922.0,1101.8 1923.9,1101.1 1926.0,1100.7 1928.1,1100.5 1930.0,1099.6 1931.4,1098.6 1932.6,1095.9 1933.6,1094.7 1934.8,1091.7 1936.0,1091.6 1937.3,1090.3 1938.5,1089.8 1939.8,1091.0 1941.0,1091.0 1942.0,1092.7 1942.9,1094.8 1943.6,1097.7 1944.3,1099.7 1945.1,1102.4 1946.0,1103.0 1947.1,1102.5 1948.3,1098.5 1949.6,1094.8 1950.9,1091.8 1952.4,1089.0 1954.0,1086.9 1955.5,1087.4 1957.2,1088.1 1958.9,1089.3 1960.6,1091.0 1962.4,1092.8 1964.0,1093.4 1965.7,1095.2 1967.3,1097.4 1968.9,1098.3 1970.5,1099.6 1972.0,1099.7 1973.4,1099.0 1974.8,1097.6 1976.2,1095.5 1977.5,1093.6 1978.8,1091.4 1980.0,1090.6 1981.8,1093.1 1983.4,1097.8 1984.9,1104.5 1986.3,1111.3 1987.7,1116.2 1989.0,1117.7 1989.9,1116.9 1990.7,1114.8 1991.4,1112.1 1992.2,1109.4 1993.0,1106.1 1994.0,1104.5 1995.1,1102.4 1996.4,1100.6 1997.6,1099.3 1998.9,1097.3 2000.0,1096.3 2001.1,1093.0 2001.9,1088.2 2002.6,1084.0 2003.4,1079.2 2004.4,1075.6 2006.0,1073.7 2007.7,1073.3 2009.6,1074.4 2011.6,1075.4 2013.8,1076.6 2016.0,1076.5 2017.1,1077.5 2018.3,1077.4 2019.5,1077.4 2020.8,1077.7 2022.1,1077.8 2023.4,1077.7 2024.6,1078.0 2025.9,1078.4 2027.0,1078.5 2028.1,1078.7 2030.0,1077.6 2031.1,1077.8 2032.3,1077.1 2034.0,1076.3 2034.9,1078.2 2035.5,1080.2 2036.1,1083.9 2037.0,1085.5 2038.5,1083.5 2040.2,1081.6 2042.0,1080.5 2044.0,1080.5 2046.1,1082.8 2048.0,1083.5 2049.2,1081.8 2050.3,1079.2 2051.3,1076.6 2052.5,1074.9 2054.0,1072.9 2055.7,1072.3 2057.8,1072.4 2058.9,1073.2 2060.0,1072.5 2061.2,1072.5 2062.3,1073.9 2063.4,1073.5 2064.5,1074.0 2066.5,1075.6 2068.4,1075.8 2070.3,1076.9 2072.1,1079.3 2073.7,1080.2 2075.2,1081.9 2076.5,1084.5 2077.4,1085.7 2078.0,1088.8 2078.5,1090.6 2079.0,1092.8 2079.6,1094.5 2080.5,1096.1 2082.3,1096.1 2084.4,1095.0 2086.5,1095.0 2088.1,1096.1 2089.7,1099.1 2091.3,1102.1 2092.8,1104.6 2094.2,1106.7 2095.5,1106.5 2096.5,1105.7 2097.3,1103.4 2098.0,1100.5 2098.9,1098.7 2100.0,1096.5 2101.6,1095.0 2103.5,1093.3 2105.4,1091.9 2107.3,1091.8 2108.4,1091.7 2109.6,1093.1 2110.7,1093.0 2111.8,1093.7 2113.8,1094.8 2114.9,1093.0 2115.8,1092.3 2116.6,1089.5 2117.3,1087.6 2117.9,1084.6 2118.6,1083.5 2119.3,1080.6 2119.9,1078.2 2120.5,1076.3 2121.1,1073.9 2121.9,1071.3 2122.9,1069.1 2124.0,1067.7 2125.2,1065.1 2126.4,1064.3 2127.6,1061.7 2128.8,1059.4 2130.0,1057.2 2131.3,1054.8 2132.6,1053.2 2134.0,1052.3 2135.3,1052.1 2136.5,1052.0 2137.7,1051.9 2138.9,1052.2 2140.4,1050.7 2141.6,1047.6 2143.0,1046.0 2144.2,1045.2 2145.4,1044.3 2146.6,1044.4 2147.8,1045.3 2149.4,1046.4 2150.9,1048.6 2152.7,1050.5 2154.8,1051.5 2156.0,1051.1 2157.2,1051.2 2158.4,1051.1 2159.6,1050.5 2161.6,1050.6 2163.2,1048.6 2164.4,1046.1 2165.7,1044.8 2166.7,1045.8 2167.8,1048.1 2168.9,1050.0 2170.0,1053.2 2171.3,1053.3 2173.1,1053.8 2175.1,1051.6 2177.0,1051.7 2178.2,1051.9 2179.5,1052.6 2180.7,1053.9 2181.9,1055.0 2183.4,1054.5 2184.9,1053.2 2186.5,1051.7 2187.9,1048.6 2189.2,1047.2 2190.0,1045.0 2190.6,1043.5 2191.1,1040.9 2191.6,1039.1 2192.3,1037.4 2193.2,1036.5 2195.2,1036.1 2196.4,1036.7 2197.6,1036.7 2199.7,1036.3 2201.2,1035.5 2202.5,1031.9 2203.8,1030.6 2205.2,1032.2 2206.6,1033.2 2208.1,1035.8 2209.4,1037.0 2210.5,1039.0 2211.5,1041.5 2212.5,1042.5 2213.5,1044.9 2214.9,1047.5 2216.3,1048.6 2217.6,1051.5 2218.3,1054.1 2218.9,1057.1 2219.3,1060.7 2219.8,1063.7 2220.2,1065.2 2220.8,1066.3 2222.1,1065.2 2223.2,1062.5 2223.4,1059.5 2223.4,1057.3 2223.2,1053.9 2223.1,1052.0 2223.3,1049.4 2224.0,1048.1 2226.2,1048.0 2227.6,1047.7 2229.0,1048.8 2230.1,1049.5 2231.3,1050.1 2232.7,1051.4 2233.8,1053.5 2235.0,1054.6 2236.2,1056.2" fill="none" stroke="#000000" stroke-width="9" stroke-linejoin="round" stroke-linecap="round"/>
<polyline points="91.0,1372.5 92.2,1372.3 93.8,1372.8 95.4,1372.4 96.5,1372.3 97.7,1372.9 98.8,1373.9 99.9,1373.7 101.2,1373.6 102.4,1372.7 103.7,1373.3 105.0,1372.9 106.2,1372.8 107.4,1372.7 108.7,1373.0 109.9,1374.3 111.3,1374.3 112.6,1374.4 114.0,1374.5 115.4,1373.7 116.9,1374.2 118.2,1375.2 119.6,1375.8 120.9,1376.5 122.3,1377.0 123.6,1376.0 124.9,1377.3 126.1,1377.7 127.4,1377.7 128.7,1377.3 130.0,1378.0 131.2,1377.1 132.5,1378.5 133.7,1378.0 135.0,1377.1 136.3,1376.2 137.5,1376.8 138.7,1375.8 139.9,1376.0 142.1,1375.4 144.0,1375.0 145.8,1376.3 147.3,1379.0 148.6,1380.8 150.0,1381.4 151.8,1380.5 153.7,1379.1 154.9,1376.9 156.0,1376.2 158.0,1377.4 159.2,1377.1 160.3,1378.0 161.6,1378.5 162.8,1378.8 164.1,1380.7 165.4,1380.0 166.6,1381.0 167.8,1381.3 170.0,1383.6 171.1,1382.1 172.2,1383.0 174.3,1386.2 176.3,1384.6 178.0,1386.0 180.0,1385.9 182.0,1379.4 183.9,1379.6 185.9,1381.8 188.0,1385.7 190.0,1384.8 192.1,1382.3 194.0,1382.9 196.1,1383.5 198.0,1386.3 199.9,1382.6 202.0,1384.8 204.2,1386.5 205.4,1387.5 206.6,1387.0 207.8,1388.7 209.0,1383.8 210.1,1385.0 211.2,1388.5 212.4,1386.9 213.5,1384.2 214.7,1386.8 216.0,1384.7 218.1,1385.9 219.3,1383.1 220.5,1382.7 221.7,1384.4 223.0,1383.0 224.2,1384.7 225.5,1388.4 226.7,1385.3 227.9,1383.9 230.0,1385.0 232.2,1387.0 234.1,1392.0 236.0,1391.2 238.0,1391.7 240.1,1390.6 241.2,1395.3 242.3,1391.9 244.4,1390.1 246.0,1389.2 248.0,1390.8 249.7,1391.2 251.8,1393.3 254.0,1389.9 255.9,1389.6 258.0,1393.0 260.1,1392.4 262.0,1397.0 264.0,1391.6 265.9,1393.1 268.0,1394.0 269.9,1392.2 271.9,1395.9 274.0,1393.7 276.1,1393.1 278.0,1394.8 279.2,1393.4 280.4,1396.2 281.6,1395.9 282.7,1400.2 283.9,1400.3 285.0,1398.8 286.2,1396.0 287.3,1397.0 288.5,1396.4 289.7,1395.7 290.8,1395.6 292.0,1398.9 293.2,1395.4 294.4,1395.4 295.5,1401.2 296.7,1400.1 297.8,1402.9 299.0,1400.1 300.2,1402.4 301.3,1400.6 302.5,1400.5 303.7,1399.4 304.8,1397.5 306.0,1394.7 308.1,1396.0 310.1,1401.1 312.0,1401.9 313.9,1401.2 316.0,1396.9 317.6,1398.8 319.6,1400.0 321.7,1399.7 323.9,1401.4 326.0,1400.6 328.0,1402.0 330.1,1403.1 332.2,1401.8 334.2,1406.4 336.2,1407.5 338.0,1403.3 340.1,1408.7 342.1,1408.7 344.0,1407.4 345.3,1404.8 346.5,1410.5 347.8,1406.8 349.0,1412.1 350.7,1409.9 352.5,1405.1 354.3,1404.0 356.0,1404.8 357.3,1402.7 358.6,1401.6 359.8,1400.4 361.1,1395.6 362.4,1393.4 364.0,1392.3 365.7,1390.1 367.6,1389.5 369.6,1387.6 371.7,1387.1 373.8,1386.1 376.0,1385.3 377.1,1384.7 378.2,1384.6 379.4,1383.8 380.6,1383.9 381.8,1383.4 383.0,1383.6 384.2,1383.4 385.4,1382.9 386.5,1382.8 387.7,1382.1 388.9,1381.9 390.0,1382.1 392.1,1381.3 394.2,1380.8 396.3,1379.8 398.3,1378.6 400.2,1378.2 402.0,1378.2 404.1,1378.0 406.0,1377.9 408.0,1379.3 409.6,1380.2 411.2,1380.8 412.9,1382.6 414.6,1384.0 416.3,1385.9 418.0,1386.8 419.7,1388.0 421.5,1389.4 423.3,1390.9 425.1,1391.3 426.9,1392.5 428.5,1394.1 430.2,1395.9 431.8,1397.3 433.4,1399.0 435.0,1400.6 436.5,1401.2 438.4,1400.0 440.4,1399.1 442.5,1397.8 444.5,1398.5 445.6,1399.7 446.7,1400.1 447.9,1401.4 449.1,1401.9 450.3,1403.6 451.6,1404.1 452.8,1405.1 454.0,1406.4 455.3,1407.1 456.5,1408.0 457.6,1408.9 458.7,1409.3 459.9,1409.2 461.0,1409.9 462.1,1410.6 463.3,1410.9 464.4,1411.5 465.6,1411.7 466.8,1411.7 468.0,1412.2 469.2,1413.0 470.5,1412.9 472.1,1413.5 473.7,1414.0 474.9,1413.9 476.0,1414.0 477.2,1414.1 478.4,1414.0 479.6,1414.6 480.8,1414.4 481.9,1414.8 483.1,1414.4 484.3,1414.9 485.4,1414.9 486.5,1414.9 487.6,1414.8 489.1,1414.6 490.6,1415.2 491.9,1414.9 493.2,1415.2 494.3,1414.8 495.4,1414.7 496.6,1414.8 497.7,1415.3 498.8,1414.8 500.0,1415.4 501.9,1415.1 503.8,1415.3 505.8,1415.3 507.8,1415.6 509.9,1415.4 512.0,1416.0 513.4,1416.7 514.9,1416.4 516.4,1417.2 518.0,1417.3 519.5,1417.7 521.1,1417.9 522.7,1418.4 524.3,1419.6 525.8,1420.0 527.3,1420.4 528.6,1420.9 530.0,1421.5 531.1,1421.2 532.2,1421.9 534.3,1422.7 536.2,1423.5 538.1,1424.6 540.0,1425.3 542.1,1426.6 544.0,1427.3 546.0,1428.8 548.0,1429.2 549.9,1428.9 551.8,1427.7 553.8,1426.6 555.9,1424.8 558.0,1424.4 559.9,1423.6 561.7,1423.5 563.6,1423.6 565.6,1423.3 567.7,1423.0 568.9,1422.9 570.1,1423.0 571.5,1423.2 572.9,1423.5 574.3,1423.4 575.5,1423.1 576.7,1423.1 577.9,1423.5 579.1,1423.1 580.4,1423.3 581.7,1423.1 583.0,1423.3 584.3,1423.6 585.6,1423.8 586.9,1423.8 588.3,1423.7 589.6,1424.2 590.9,1424.0 592.3,1423.7 593.6,1423.7 594.9,1424.4 596.2,1424.5 597.5,1424.4 598.8,1424.2 600.1,1423.9 601.4,1423.7 602.6,1423.8 603.9,1423.8 605.1,1424.3 606.4,1424.2 607.7,1424.1 608.9,1423.5 610.2,1423.5 611.5,1423.5 612.8,1423.9 614.0,1423.2 615.3,1423.6 616.6,1423.4 617.8,1423.2 619.1,1423.4 620.3,1422.8 621.6,1422.9 622.8,1422.5 624.1,1422.3 625.3,1422.2 626.5,1422.3 627.8,1422.0 629.0,1421.9 630.2,1422.5 631.3,1421.8 632.4,1422.2 633.6,1421.9 634.7,1421.8 635.8,1421.6 636.9,1421.7 638.0,1421.5 639.1,1421.3 640.6,1421.0 642.1,1420.9 643.5,1420.7 645.0,1420.4 646.4,1420.2 647.9,1419.7 649.3,1420.1 650.7,1419.7 652.1,1419.2 653.5,1419.1 654.8,1419.5 656.2,1418.9 657.4,1418.9 658.6,1419.0 659.7,1419.0 660.9,1418.5 662.1,1418.4 663.3,1418.3 664.4,1417.9 665.6,1418.4 666.7,1417.6 667.8,1418.3 668.9,1417.6 670.0,1417.5 671.6,1418.1 673.2,1418.0 674.7,1417.7 676.2,1418.1 677.3,1418.3 678.4,1418.8 680.5,1419.0 682.5,1420.3 684.5,1421.4 686.4,1422.2 688.3,1423.4 690.4,1424.9 692.4,1426.2 694.4,1428.5 696.3,1430.2 698.3,1431.4 700.3,1431.8 702.3,1432.1 704.3,1431.5 706.3,1430.0 708.3,1429.4 710.3,1429.4 712.3,1429.8 714.2,1430.6 716.2,1432.7 718.2,1433.9 720.3,1435.7 722.3,1436.2 724.3,1435.9 726.3,1435.8 728.3,1434.8 730.4,1433.8 732.4,1433.5 734.3,1433.4 736.3,1433.9 738.2,1434.7 740.2,1435.6 742.1,1436.6 744.3,1437.2 745.5,1437.3 746.8,1437.8 748.1,1437.3 749.4,1437.1 750.8,1437.6 752.2,1437.4 753.6,1437.3 755.0,1437.2 756.4,1436.7 757.8,1436.5 759.1,1436.1 760.4,1436.3 761.6,1436.0 762.8,1435.4 763.9,1434.4 765.0,1434.5 767.2,1433.1 768.3,1432.1 769.4,1431.1 770.6,1431.1 771.8,1430.3 773.1,1429.7 774.4,1428.7 775.7,1428.9 776.9,1428.0 778.2,1428.0 779.6,1427.4 781.0,1427.2 782.3,1427.3 783.8,1426.9 785.3,1426.7 786.7,1426.0 787.9,1425.9 789.0,1425.9 790.1,1425.2 791.3,1425.4 792.4,1425.6 793.5,1425.3 794.7,1425.2 795.8,1424.6 797.0,1424.7 798.1,1424.7 799.3,1424.4 800.4,1424.0 801.6,1423.7 802.8,1423.4 804.1,1423.9 805.3,1423.8 806.5,1423.1 807.8,1423.4 809.0,1423.0 810.3,1423.0 811.5,1423.0 812.8,1422.5 814.0,1422.6 815.3,1422.2 816.6,1422.3 817.8,1421.8 819.1,1421.9 820.4,1421.8 821.6,1422.2 822.9,1421.4 824.2,1421.8 825.5,1421.2 826.7,1421.8 828.0,1421.0 829.2,1420.9 830.5,1420.9 831.7,1421.3 833.0,1421.0 834.2,1421.1 835.5,1420.7 836.7,1420.3 838.0,1420.4 839.2,1420.4 840.5,1420.8 841.7,1420.0 843.0,1420.0 844.2,1420.4 845.5,1419.7 846.7,1420.3 848.0,1419.7 849.2,1419.9 850.5,1419.9 851.7,1420.0 853.0,1419.2 854.2,1419.8 855.5,1419.2 856.7,1419.5 858.0,1418.9 859.2,1419.4 860.5,1418.8 861.8,1418.8 863.0,1418.6 864.3,1418.7 865.6,1418.6 866.9,1419.1 868.2,1418.7 869.5,1418.4 870.8,1418.8 872.1,1418.1 873.4,1418.0 874.7,1418.5 876.0,1418.4 877.2,1418.1 878.5,1418.3 879.8,1417.4 881.1,1418.0 882.3,1417.8 883.5,1417.7 884.7,1417.7 886.0,1417.1 887.1,1417.1 888.3,1417.0 889.4,1417.2 890.6,1417.1 891.7,1417.1 892.9,1416.9 894.0,1417.1 895.6,1417.1 897.1,1416.9 898.6,1416.3 900.1,1416.3 901.7,1416.3 903.2,1416.2 904.8,1416.4 906.4,1416.0 907.6,1416.3 908.8,1416.0 910.0,1416.0 911.2,1416.2 912.3,1416.4 913.5,1415.7 914.6,1415.8 915.8,1416.2 917.0,1415.6 918.3,1415.4 919.6,1415.5 920.8,1415.9 922.1,1415.8 923.2,1415.9 924.3,1415.5 925.5,1415.1 926.6,1415.3 927.7,1415.6 928.8,1415.3 930.0,1415.0 931.2,1415.2 932.3,1415.2 933.5,1415.1 934.6,1415.1 935.8,1414.8 937.0,1414.7 938.2,1415.2 939.4,1415.1 940.5,1414.8 941.7,1414.5 942.9,1414.6 944.1,1414.8 945.3,1415.0 946.5,1414.6 947.6,1415.0 948.8,1414.6 950.0,1414.2 951.1,1414.5 952.3,1414.5 953.4,1414.4 954.6,1414.5 955.7,1413.9 956.9,1414.1 958.0,1414.4 959.2,1413.8 960.4,1413.7 961.6,1413.7 962.7,1413.7 963.9,1413.8 965.1,1413.6 966.3,1413.8 967.5,1413.4 968.7,1413.5 969.9,1413.7 971.1,1413.5 972.3,1413.8 973.5,1413.7 974.7,1413.1 975.9,1413.1 977.1,1413.2 978.3,1413.2 979.6,1413.0 980.8,1413.3 982.0,1412.7 983.2,1412.9 984.4,1412.5 985.6,1413.1 986.8,1412.8 988.0,1413.1 989.3,1412.3 990.5,1412.7 991.7,1412.6 992.9,1412.1 994.1,1412.6 995.3,1412.6 996.5,1411.9 997.7,1412.6 998.9,1412.4 1000.1,1412.2 1001.3,1412.1 1002.6,1411.8 1003.8,1411.6 1005.1,1411.9 1006.3,1412.2 1007.6,1411.7 1008.8,1411.8 1009.9,1411.7 1011.1,1412.0 1012.2,1412.2 1013.4,1412.1 1014.5,1411.6 1015.6,1411.7 1016.8,1411.4 1017.9,1411.8 1019.0,1412.0 1020.2,1412.0 1021.3,1411.4 1022.5,1411.6 1023.6,1411.3 1024.7,1411.6 1025.9,1412.0 1027.0,1411.5 1028.3,1411.9 1029.5,1411.9 1030.8,1411.8 1032.0,1411.3 1033.2,1411.8 1034.5,1411.8 1035.7,1411.8 1036.8,1411.0 1038.0,1410.9 1039.1,1411.1 1040.2,1411.2 1041.3,1411.0 1042.5,1410.7 1043.6,1411.1 1044.7,1410.9 1045.8,1410.8 1046.9,1410.5 1048.0,1410.4 1049.1,1410.4 1050.2,1409.8 1051.8,1409.6 1053.3,1409.0 1054.7,1408.4 1056.1,1408.4 1057.4,1407.4 1058.7,1406.8 1059.8,1406.2 1061.0,1405.9 1063.2,1404.8 1065.2,1405.1 1067.2,1405.4 1068.8,1407.4 1070.5,1408.1 1072.2,1409.3 1074.1,1408.8 1076.0,1407.6 1078.0,1406.4 1080.2,1405.9 1082.2,1406.4 1084.3,1406.8 1086.5,1407.7 1087.6,1407.9 1088.8,1408.7 1090.1,1408.8 1091.4,1409.4 1092.9,1409.9 1094.3,1410.1 1095.5,1410.3 1096.8,1410.4 1098.0,1410.2 1099.3,1411.0 1100.5,1410.9 1101.8,1410.9 1103.0,1411.2 1104.3,1410.8 1105.5,1410.7 1106.8,1410.8 1108.0,1410.8 1109.2,1410.8 1110.4,1410.8 1111.5,1410.7 1112.7,1411.0 1113.9,1410.8 1115.1,1410.9 1116.2,1411.1 1117.4,1410.8 1118.6,1411.3 1119.9,1411.2 1121.1,1410.8 1122.3,1411.2 1123.5,1410.7 1124.7,1410.6 1125.9,1411.3 1127.0,1410.6 1128.2,1410.5 1129.4,1411.2 1130.5,1410.5 1131.7,1411.1 1132.9,1411.0 1134.1,1410.7 1135.4,1410.8 1136.6,1411.4 1137.8,1411.0 1139.1,1410.9 1140.3,1411.1 1141.7,1411.4 1143.0,1411.1 1144.4,1411.0 1145.7,1411.6 1147.0,1411.1 1148.3,1411.2 1149.6,1411.2 1150.9,1412.0 1152.2,1411.7 1153.5,1412.0 1154.7,1411.9 1156.0,1412.4 1157.2,1411.9 1158.4,1412.0 1159.6,1412.4 1160.9,1411.9 1162.1,1412.3 1163.3,1412.7 1164.5,1412.7 1165.7,1412.7 1166.8,1413.1 1168.0,1412.8 1169.2,1413.2 1170.4,1413.0 1171.8,1412.9 1173.1,1413.3 1174.5,1413.3 1175.8,1413.3 1177.1,1413.7 1178.4,1413.7 1179.7,1414.1 1181.0,1414.5 1182.3,1414.7 1183.6,1415.0 1184.8,1414.7 1186.1,1415.1 1187.5,1415.4 1188.8,1415.2 1190.1,1415.7 1191.6,1415.2 1193.0,1415.9 1194.4,1416.0 1195.5,1416.1 1196.6,1416.0 1197.7,1416.0 1198.8,1415.8 1200.0,1416.1 1201.1,1416.2 1202.3,1416.0 1203.5,1416.0 1204.6,1416.3 1205.8,1415.8 1207.0,1415.8 1208.2,1415.6 1209.4,1416.3 1210.6,1416.1 1211.8,1416.1 1213.1,1415.7 1214.3,1415.7 1215.5,1415.9 1216.8,1416.2 1218.0,1415.8 1219.2,1415.8 1220.5,1415.8 1221.7,1416.1 1223.0,1415.5 1224.2,1416.1 1225.4,1415.4 1226.7,1415.9 1227.9,1415.9 1229.2,1415.7 1230.4,1415.9 1231.5,1415.5 1232.7,1415.4 1233.8,1415.6 1235.0,1415.5 1236.1,1415.9 1237.3,1415.8 1238.5,1415.9 1239.7,1416.1 1240.9,1416.0 1242.2,1416.0 1243.4,1416.2 1244.6,1416.1 1245.8,1416.0 1247.1,1415.7 1248.3,1415.8 1249.5,1416.1 1250.8,1416.1 1252.0,1416.2 1253.2,1416.1 1254.4,1416.0 1255.5,1415.7 1256.7,1415.9 1257.9,1415.6 1259.1,1416.0 1260.3,1415.5 1261.6,1415.4 1262.8,1416.1 1264.1,1416.0 1265.4,1415.5 1266.6,1415.1 1267.9,1415.6 1269.2,1415.4 1270.5,1414.8 1271.7,1415.1 1272.9,1414.9 1274.8,1414.0 1276.6,1413.1 1278.4,1412.3 1280.5,1411.8 1282.0,1411.9 1283.4,1411.9 1285.0,1411.7 1286.6,1411.2 1287.8,1411.6 1288.9,1411.0 1290.1,1411.3 1291.2,1411.0 1292.4,1410.8 1293.6,1410.9 1294.8,1411.4 1295.9,1410.9 1297.1,1410.7 1298.2,1411.1 1299.4,1411.0 1300.5,1411.2 1302.1,1411.3 1303.8,1411.6 1305.4,1412.0 1307.0,1410.9 1308.6,1411.6 1310.2,1410.7 1311.9,1411.0 1313.5,1410.8 1315.1,1412.4 1316.7,1411.5 1318.4,1412.3 1320.0,1412.8 1321.1,1411.8 1322.2,1411.5 1323.3,1411.6 1324.5,1412.1 1325.6,1412.0 1326.7,1411.3 1327.8,1412.9 1328.9,1412.5 1330.1,1413.0 1331.2,1413.0 1332.3,1412.8 1333.4,1413.1 1334.5,1412.9 1335.6,1412.4 1336.7,1413.3 1338.4,1413.7 1340.0,1412.2 1341.6,1412.6 1343.1,1413.0 1344.7,1414.0 1346.3,1415.2 1347.9,1415.0 1349.4,1416.2 1350.9,1415.6 1352.5,1416.5 1353.9,1416.1 1355.3,1417.2 1356.7,1416.5 1358.0,1416.0 1360.2,1416.3 1362.2,1415.7 1364.1,1415.2 1366.0,1413.1 1368.0,1413.9 1369.9,1413.7 1371.7,1412.8 1373.6,1414.6 1375.6,1415.6 1377.7,1416.4 1378.9,1416.1 1380.0,1415.8 1381.2,1416.3 1382.4,1416.7 1383.6,1416.8 1385.0,1416.1 1386.3,1417.7 1387.7,1417.2 1389.1,1416.4 1390.6,1417.0 1392.0,1416.8 1393.4,1417.7 1394.9,1417.1 1396.3,1418.1 1397.7,1417.8 1399.0,1419.0 1400.4,1419.1 1401.6,1418.1 1402.8,1419.5 1404.0,1419.2 1405.1,1418.7 1406.2,1420.2 1408.3,1418.7 1410.2,1419.8 1412.1,1420.5 1414.0,1420.0 1416.0,1421.0 1417.1,1422.0 1418.3,1421.1 1419.4,1422.1 1420.6,1421.3 1421.8,1423.1 1423.0,1423.4 1424.2,1422.0 1425.4,1423.4 1426.5,1422.6 1427.7,1422.1 1428.9,1422.5 1430.0,1423.5 1431.1,1422.6 1432.3,1422.4 1433.5,1421.1 1434.6,1420.6 1435.8,1420.3 1437.0,1420.0 1438.1,1420.0 1439.2,1418.7 1441.2,1417.7 1443.0,1418.8 1444.5,1419.5 1445.7,1421.6 1446.7,1423.9 1447.8,1425.1 1449.0,1425.5 1450.6,1424.7 1452.3,1424.2 1454.1,1422.7 1456.0,1421.8 1458.0,1421.3 1460.2,1420.3 1462.3,1420.3 1464.0,1421.9 1465.3,1421.9 1466.1,1425.1 1466.9,1427.9 1468.0,1429.2 1469.8,1428.0 1471.9,1424.5 1474.0,1424.0 1475.8,1424.8 1477.8,1428.6 1479.8,1432.4 1481.8,1437.2 1483.9,1441.2 1486.0,1442.9 1488.0,1443.0 1490.2,1443.0 1492.2,1442.4 1494.0,1440.8 1495.3,1438.9 1496.4,1436.5 1497.4,1433.9 1498.3,1430.3 1499.1,1429.0 1500.0,1427.5 1501.1,1429.2 1502.1,1430.3 1503.1,1433.7 1504.0,1435.4 1504.7,1439.4 1505.2,1443.6 1505.6,1448.9 1506.1,1453.3 1506.8,1455.9 1508.0,1457.5 1509.4,1458.2 1511.0,1456.8 1512.7,1455.2 1514.5,1453.4 1516.0,1451.8 1517.3,1450.7 1518.6,1449.0 1519.8,1447.1 1520.9,1445.8 1522.0,1444.6 1523.1,1442.0 1524.0,1439.1 1524.9,1436.3 1525.8,1433.0 1526.8,1430.9 1528.0,1430.4 1529.9,1430.3 1531.9,1433.0 1534.0,1433.6 1536.1,1433.6 1538.2,1432.3 1540.0,1432.3 1541.2,1433.6 1542.1,1437.5 1543.0,1439.4 1543.8,1437.6 1544.6,1436.2 1545.5,1433.0 1546.6,1431.0 1548.0,1429.6 1549.7,1427.7 1551.8,1427.9 1552.9,1428.1 1554.0,1428.7 1556.1,1429.0 1558.0,1428.4 1560.2,1429.7 1562.1,1431.7 1564.0,1434.4 1565.7,1436.8 1567.4,1439.9 1569.1,1443.9 1570.9,1447.1 1572.5,1449.6 1574.0,1450.2 1575.1,1449.0 1576.0,1447.7 1576.9,1445.1 1577.8,1442.7 1578.8,1439.3 1580.0,1437.4 1581.8,1436.5 1583.9,1435.3 1586.0,1434.9 1588.0,1434.5 1589.7,1435.7 1591.3,1436.5 1592.9,1437.7 1594.5,1439.1 1596.0,1441.1 1597.5,1442.3 1598.9,1445.3 1600.2,1446.6 1601.6,1448.9 1603.0,1448.5 1604.4,1448.1 1605.7,1446.6 1607.1,1443.7 1608.5,1440.9 1610.1,1439.0 1612.0,1436.6 1613.1,1437.0 1614.3,1436.2 1615.6,1435.8 1616.8,1435.7 1618.2,1435.7 1619.6,1436.1 1621.0,1436.0 1622.4,1436.3 1623.9,1436.6 1625.3,1437.1 1626.6,1437.1 1628.0,1436.8 1629.4,1437.4 1630.7,1437.6 1632.2,1438.1 1633.6,1437.8 1635.0,1438.2 1636.4,1438.8 1637.7,1438.7 1639.1,1439.0 1640.4,1439.8 1641.7,1439.9 1642.8,1440.9 1644.0,1440.8 1645.9,1441.7 1647.7,1443.5 1649.3,1444.8 1650.9,1446.5 1652.5,1447.5 1653.7,1447.7 1654.9,1448.4 1656.1,1449.3 1657.3,1449.8 1658.4,1450.0 1659.5,1449.9 1660.7,1449.6 1661.8,1448.0 1662.8,1445.9 1663.8,1443.7 1665.0,1441.9 1666.5,1439.7 1668.5,1439.5 1669.6,1438.2 1670.8,1437.7 1672.0,1437.9 1673.2,1437.2 1674.5,1437.2 1675.8,1437.4 1677.0,1436.7 1678.2,1436.9 1679.4,1436.9 1680.5,1437.5 1682.6,1436.5 1684.7,1437.3 1686.7,1437.6 1688.7,1437.8 1690.5,1438.8 1692.3,1440.3 1693.9,1442.4 1695.5,1444.8 1697.0,1446.5 1698.5,1447.0 1699.8,1446.3 1701.0,1445.0 1702.2,1442.9 1703.5,1440.2 1704.9,1438.8 1706.5,1436.9 1708.6,1436.1 1709.7,1434.7 1710.9,1434.6 1712.1,1433.9 1713.4,1433.8 1714.6,1433.6 1715.9,1433.0 1717.1,1432.6 1718.3,1432.8 1719.5,1431.8 1720.6,1432.6 1721.8,1432.0 1723.0,1432.4 1724.2,1432.2 1725.3,1432.4 1726.5,1433.0 1727.6,1433.8 1728.8,1433.6 1730.0,1434.4 1732.0,1433.1 1734.0,1432.8 1736.1,1432.0 1738.1,1430.8 1740.1,1430.4 1742.0,1430.4 1744.0,1431.8 1745.9,1433.3 1747.8,1436.9 1749.5,1439.6 1751.3,1442.0 1753.0,1443.3 1754.5,1442.6 1756.1,1440.1 1757.5,1437.7 1759.0,1435.2 1760.5,1434.1 1762.0,1433.4 1763.6,1432.9 1765.2,1434.2 1766.8,1435.9 1768.4,1438.9 1770.0,1439.5 1771.3,1441.6 1772.6,1443.7 1773.8,1444.6 1775.1,1446.9 1776.4,1447.9 1778.0,1449.2 1779.8,1449.4 1781.8,1449.0 1783.9,1449.6 1786.0,1448.7 1788.1,1448.9 1790.0,1448.1 1792.1,1448.3 1794.0,1447.7 1795.9,1446.8 1798.0,1446.4 1800.1,1447.2 1801.3,1446.5 1802.5,1446.4 1803.7,1446.2 1805.0,1445.3 1806.2,1445.5 1807.4,1445.2 1808.6,1444.4 1809.8,1444.9 1812.0,1445.5 1814.2,1446.0 1816.2,1447.7 1818.2,1448.5 1820.1,1450.3 1822.0,1451.0 1824.1,1450.5 1826.1,1449.4 1828.0,1447.6 1830.0,1447.1 1832.0,1447.8 1834.0,1449.7 1836.0,1451.2 1838.0,1451.9 1839.2,1451.4 1840.4,1451.7 1841.5,1450.3 1842.7,1450.0 1843.8,1449.1 1845.0,1449.6 1846.7,1449.3 1848.5,1450.9 1850.2,1452.2 1852.0,1453.5 1853.9,1452.9 1855.9,1451.3 1858.0,1450.2 1860.0,1450.3 1862.0,1450.5 1864.0,1451.4 1866.0,1452.3 1868.0,1453.3 1869.7,1452.4 1871.4,1451.1 1873.1,1448.2 1874.8,1446.5 1876.4,1443.8 1878.0,1442.1 1879.7,1439.1 1881.4,1436.2 1883.0,1433.6 1884.6,1430.2 1886.2,1428.4 1888.0,1425.6 1890.0,1424.4 1892.2,1424.2 1894.3,1422.9 1896.0,1421.8 1897.2,1420.2 1898.0,1417.1 1898.7,1414.9 1900.0,1413.4 1901.9,1413.7 1903.0,1413.2 1904.1,1414.2 1905.4,1414.9 1906.6,1415.4 1907.8,1416.3 1909.0,1415.9 1911.1,1415.7 1912.2,1414.0 1913.4,1413.7 1914.5,1413.0 1915.6,1412.2 1916.7,1410.8 1917.9,1410.3 1920.0,1407.5 1922.0,1405.8 1923.7,1404.2 1925.3,1402.9 1926.9,1401.9 1928.4,1400.8 1930.0,1398.6 1931.6,1397.1 1933.3,1394.8 1935.0,1393.2 1936.7,1390.5 1938.3,1389.2 1940.0,1387.7 1941.2,1388.8 1942.4,1388.0 1943.6,1389.0 1944.8,1390.4 1945.9,1390.7 1947.0,1391.0 1948.7,1390.0 1950.2,1387.9 1952.0,1387.2 1953.7,1387.3 1955.6,1388.8 1957.7,1390.6 1959.8,1391.8 1962.0,1393.7 1964.0,1394.4 1966.1,1394.5 1968.2,1392.8 1970.2,1392.3 1972.2,1390.8 1974.0,1389.6 1975.5,1388.5 1976.9,1387.0 1978.2,1384.2 1979.4,1383.2 1980.7,1381.9 1982.0,1381.6 1983.3,1382.0 1984.7,1383.0 1986.0,1385.8 1987.4,1387.8 1988.7,1389.1 1990.0,1390.3 1991.4,1389.3 1992.7,1388.6 1994.0,1386.8 1995.4,1384.0 1996.7,1381.5 1998.0,1380.4 1999.3,1377.5 2000.5,1375.0 2001.7,1373.4 2003.0,1370.4 2004.4,1368.7 2006.0,1367.9 2007.7,1368.3 2009.7,1368.5 2011.7,1370.0 2013.8,1371.0 2015.9,1372.3 2018.0,1373.3 2019.1,1372.9 2020.3,1372.6 2021.4,1372.3 2022.6,1370.6 2023.7,1370.1 2024.9,1369.7 2026.0,1368.5 2027.2,1368.4 2028.4,1366.9 2029.6,1367.1 2030.8,1366.6 2032.0,1366.2 2033.3,1366.8 2034.7,1366.4 2036.1,1367.0 2037.5,1367.8 2038.9,1369.0 2040.3,1370.0 2041.7,1370.6 2043.1,1371.6 2044.4,1372.1 2045.7,1372.9 2046.8,1372.3 2048.0,1373.4 2050.1,1372.3 2052.0,1370.5 2053.8,1368.6 2056.0,1368.1 2058.2,1367.4 2059.4,1367.5 2060.6,1367.7 2061.9,1367.4 2063.2,1367.6 2064.5,1367.6 2065.8,1368.2 2067.1,1369.1 2068.3,1368.7 2069.4,1369.2 2070.5,1369.6 2072.4,1371.5 2074.0,1373.4 2075.6,1374.8 2077.1,1377.7 2078.7,1378.7 2080.5,1380.5 2082.7,1382.1 2083.9,1383.7 2085.1,1383.6 2086.4,1385.1 2087.7,1385.2 2088.9,1385.9 2090.2,1386.3 2091.3,1387.6 2092.5,1387.5 2094.5,1388.5 2095.9,1387.9 2097.4,1387.4 2098.7,1386.6 2100.0,1386.0 2102.1,1384.9 2104.2,1384.2 2105.4,1382.8 2106.5,1382.3 2108.5,1383.1 2110.6,1382.7 2112.7,1382.6 2114.6,1381.9 2116.2,1379.9 2117.6,1378.1 2118.9,1376.5 2120.3,1373.5 2121.6,1372.1 2122.9,1370.0 2124.2,1367.7 2125.6,1365.5 2127.0,1363.7 2128.4,1362.7 2129.9,1360.2 2131.5,1358.7 2133.0,1357.1 2134.7,1355.8 2136.5,1353.9 2138.5,1353.3 2140.7,1352.9 2141.8,1352.5 2142.9,1352.0 2145.1,1352.0 2147.0,1352.2 2149.0,1353.2 2150.7,1354.1 2152.7,1354.6 2153.8,1354.9 2155.0,1355.8 2156.2,1355.9 2157.5,1355.7 2158.8,1356.0 2160.1,1355.5 2161.2,1355.7 2162.4,1355.8 2163.9,1356.1 2165.4,1356.3 2166.7,1355.5 2168.1,1355.4 2169.3,1356.5 2170.5,1357.9 2171.7,1358.9 2173.0,1358.7 2175.0,1359.7 2176.2,1360.1 2177.3,1360.9 2178.5,1360.7 2179.7,1360.7 2180.8,1361.4 2181.9,1361.1 2183.2,1361.1 2184.5,1360.8 2185.7,1360.5 2186.9,1359.8 2188.1,1359.3 2189.2,1358.4 2191.2,1356.9 2193.0,1355.3 2194.9,1353.6 2197.0,1352.5 2199.2,1351.4 2201.3,1351.1 2203.0,1351.8 2204.6,1353.2 2206.2,1355.7 2207.8,1357.0 2209.3,1358.5 2210.9,1359.7 2212.4,1360.4 2213.9,1362.3 2215.1,1363.8 2216.0,1366.4 2216.7,1368.1 2217.2,1369.9 2217.8,1372.2 2218.4,1374.5 2219.2,1375.4 2221.2,1377.5 2223.2,1377.6 2224.8,1375.7 2226.5,1373.3 2227.7,1371.7 2229.0,1371.3 2230.1,1371.2 2231.3,1371.1 2232.0,1371.8 2232.3,1374.2 2232.5,1377.2 2233.0,1379.0 2234.9,1381.3 2236.2,1381.9" fill="none" stroke="#0000ff" stroke-width="9" stroke-linejoin="round" stroke-linecap="round"/>
<g fill="#000">
<rect x="90" y="42" width="2173" height="9"/>
<rect x="86" y="46" width="9" height="1638"/>
<rect x="2258" y="46" width="9" height="1607"/>
<rect x="90" y="1648" width="2173" height="9"/>
<rect x="234.9" y="1650" width="8.8" height="19"/>
<rect x="383.7" y="1650" width="8.8" height="34"/>
<rect x="532.4" y="1650" width="8.8" height="19"/>
<rect x="681.2" y="1650" width="8.8" height="34"/>
<rect x="830.0" y="1650" width="8.8" height="19"/>
<rect x="978.8" y="1650" width="8.8" height="34"/>
<rect x="1127.5" y="1650" width="8.8" height="19"/>
<rect x="1276.3" y="1650" width="8.8" height="34"/>
<rect x="1425.1" y="1650" width="8.8" height="19"/>
<rect x="1573.9" y="1650" width="8.8" height="34"/>
<rect x="1722.7" y="1650" width="8.8" height="19"/>
<rect x="1871.4" y="1650" width="8.8" height="34"/>
<rect x="2020.2" y="1650" width="8.8" height="19"/>
<rect x="2169.0" y="1650" width="8.8" height="34"/>
</g>
<text transform="translate(90.5,1758.5) scale(1,1.0407)" text-anchor="middle" class="tl">4000</text>
<text transform="translate(388.1,1758.5) scale(1,1.0407)" text-anchor="middle" class="tl">3500</text>
<text transform="translate(685.6,1758.5) scale(1,1.0407)" text-anchor="middle" class="tl">3000</text>
<text transform="translate(983.2,1758.5) scale(1,1.0407)" text-anchor="middle" class="tl">2500</text>
<text transform="translate(1280.7,1758.5) scale(1,1.0407)" text-anchor="middle" class="tl">2000</text>
<text transform="translate(1578.3,1758.5) scale(1,1.0407)" text-anchor="middle" class="tl">1500</text>
<text transform="translate(1875.8,1758.5) scale(1,1.0407)" text-anchor="middle" class="tl">1000</text>
<text transform="translate(2173.4,1758.5) scale(1,1.0407)" text-anchor="middle" class="tl">500</text>
<text transform="translate(719,1900) scale(1,1.0407)" style="font-size:83.5px" fill="#000">Wavenumber <tspan dx="-3">(cm</tspan><tspan dy="-38.4" style="font-size:50px">-1</tspan><tspan dy="38.4" dx="2">)</tspan></text>
<text transform="translate(154,128) scale(0.985,1.0407)" class="lb" fill="#008080">RT</text>
<text transform="translate(118.7,692.5) scale(1,1.0407)" class="lb" fill="#ff0000">HP-</text>
<text transform="translate(233.2,693) scale(1.13,1.005)" style="font-size:67px;font-family:'Liberation Serif',serif;font-weight:normal" fill="#ff0000">β</text>
<text transform="translate(271.4,692.5) scale(1,1.0407)" class="lb" fill="#ff0000">-CD</text>
<text transform="translate(114,981) scale(1,1.0407)" class="lb" fill="#000">Physical mixture</text>
<text transform="translate(117,1322) scale(1.012,1.0407)" class="lb" fill="#0000ff">RT-NC2</text>
<g fill="#fff">
<rect x="1506.16" y="1750.35" width="12.97" height="9.35"/>
<rect x="1528.36" y="1750.35" width="12.11" height="9.35"/>
<rect x="1803.71" y="1750.35" width="12.97" height="9.35"/>
<rect x="1825.91" y="1750.35" width="12.11" height="9.35"/>
<rect x="1427.11" y="1853.73" width="10.02" height="7.51"/>
<rect x="1444.00" y="1853.73" width="9.39" height="7.51"/>
</g>
</svg>
</body></html>
